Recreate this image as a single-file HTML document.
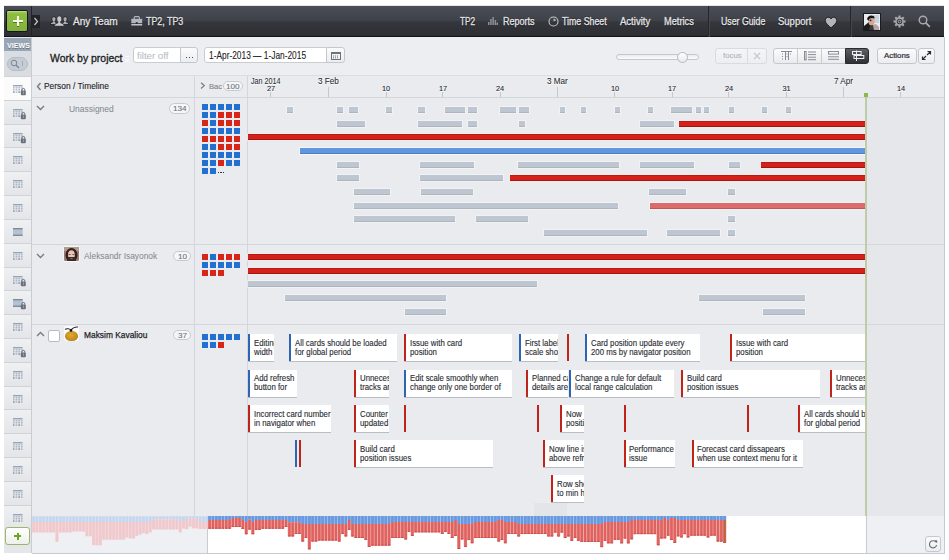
<!DOCTYPE html><html><head><meta charset="utf-8"><style>
*{box-sizing:border-box;margin:0;padding:0}
html,body{width:949px;height:560px;overflow:hidden;background:#fff;font-family:"Liberation Sans",sans-serif;}
.a{position:absolute}
#hdr{left:4px;top:5.6px;width:940px;height:31.4px;background:linear-gradient(#4a4d56 0%,#3f4249 48.5%,#35373c 52.5%,#2c2e33 100%);border-bottom:1px solid #121315;box-shadow:0 -0.5px 0 #c9ccd1}
.ht{color:#e2e3e5;font-size:10px;white-space:nowrap;line-height:12px}
.sep{width:1px;background:#24252a;border-right:1px solid #4c4e55}
#side{left:4px;top:37px;width:28px;height:516px;background:#e4e6ea;border-right:1px solid #c9ccd1}
.cell{left:0;width:27px;height:24px;background:linear-gradient(#eff0f2,#e3e5e8);border-top:1px solid #cfd2d6}
#main{left:32px;top:37px;width:912px;height:516px;background:#e9ebef;}
.bar{position:absolute;height:6px;background:#bdc6d1;box-shadow:inset 0 -1px 0 #adb5bf,0 0 0 1px rgba(255,255,255,0.35)}
.bar.r{background:#d4211a;box-shadow:inset 0 -1px 0 #a3150e,inset 0 1px 0 #b91b13,0 0 0 1px rgba(255,235,235,0.6)}
.bar.b{background:#6197de;box-shadow:inset 0 -1px 0 #4a7fc8,0 0 0 1px rgba(255,255,255,0.6)}
.bar.lr{background:#dc6b6b;box-shadow:inset 0 -1px 0 #c25555,0 0 0 1px rgba(255,255,255,0.4)}
.sq{position:absolute;width:6px;height:6px}
.sqb{background:#2271d2}
.sqr{background:#d8251a}
.card{position:absolute;height:27px;background:#fff;border-left:2px solid #c0231a;box-shadow:0 1px 0 #b9bec5;overflow:hidden;font-size:8.2px;line-height:9px;color:#2a2d33;padding:4.8px 0 0 3.6px;white-space:nowrap;-webkit-text-stroke:0.12px #2a2d33}
.ct{transform:scaleX(0.955);transform-origin:0 0}
.cb{border-left-color:#2c65b6}
.ln{position:absolute;width:2px;height:27px;background:#c0231a}
.lnb{background:#2c65b6}
.badge{position:absolute;height:10px;border:1px solid #c3c6cb;border-radius:6px;background:#f4f5f7;font-size:8px;line-height:8px;color:#767a82;text-align:center}
.tl{position:absolute;font-size:7.5px;color:#25272b;white-space:nowrap;line-height:8px;-webkit-text-stroke:0.2px #25272b;text-shadow:0 1px 0 rgba(255,255,255,0.7)}
.tick{position:absolute;width:1px;background:#c4c8ce}
.btn{position:absolute;height:16px;border:1px solid #c4c8ce;border-radius:3px;background:linear-gradient(#fbfbfc,#ebedf0)}
</style></head><body><div class="a" id="hdr"></div>
<div class="a" style="left:7px;top:11px;width:20px;height:19.5px;border-radius:1.5px;background:linear-gradient(#a2cf55,#8fbd42 15%,#82b23a 100%);box-shadow:0 0 0 1px #16171a,inset 0 1px 0 #b8dc77"></div>
<div class="a" style="left:13px;top:20px;width:10px;height:2px;background:#f6fbe9;box-shadow:0 1px 0 rgba(40,60,10,0.5)"></div>
<div class="a" style="left:17px;top:16px;width:2px;height:10px;background:#f6fbe9;box-shadow:0 1px 0 rgba(40,60,10,0.5)"></div>
<div class="a" style="left:31px;top:6px;width:1px;height:31px;background:#222327"></div>
<div class="a" style="left:32px;top:15px;width:8px;height:13px;background:#232428"></div>
<svg class="a" style="left:33px;top:17px" width="6" height="9"><path d="M1.5 1 L4.5 4.5 L1.5 8" stroke="#c8c9cc" stroke-width="1.2" fill="none"/></svg>
<svg class="a" style="left:49px;top:14px" width="21" height="13" viewBox="0 0 21 13"><g fill="#a9adb3" stroke="#1d1e22" stroke-width="0.8"><path d="M1 10.5 Q1.5 8.3 3.8 8 L3.8 7.2 Q2.8 6.3 2.8 4.9 Q2.8 2.7 4.9 2.7 Q7 2.7 7 4.9 Q7 6.3 6 7.2 L6 8 Q8.2 8.3 8.8 10.5 Z"/><path d="M12.2 10.5 Q12.8 8.3 15 8 L15 7.2 Q14 6.3 14 4.9 Q14 2.7 16.1 2.7 Q18.2 2.7 18.2 4.9 Q18.2 6.3 17.2 7.2 L17.2 8 Q19.4 8.3 20 10.5 Z"/><path d="M5 12.3 Q5.6 9.2 8.9 8.8 L8.9 7.8 Q7.7 6.8 7.7 4.8 Q7.7 1.8 10.3 1.8 Q12.9 1.8 12.9 4.8 Q12.9 6.8 11.7 7.8 L11.7 8.8 Q15 9.2 15.6 12.3 Z" fill="#c4c7cc"/></g></svg>
<div class="a" style="left:72.90px;top:15px;font-size:10.32px;line-height:13px;color:#e4e5e8;white-space:nowrap;transform:scaleX(0.980);transform-origin:0 0;text-shadow:0 1px 1px #141518,0 -1px 0 #1a1b1e;-webkit-text-stroke:0.3px #e4e5e8;">Any Team</div>
<svg class="a" style="left:131px;top:16px" width="11.5" height="10.5" viewBox="0 0 11.5 10.5"><path d="M3.2 3V1.6Q3.2 0.6 4.2 0.6H7.3Q8.3 0.6 8.3 1.6V3" fill="none" stroke="#b4b8be" stroke-width="1.1"/><rect x="0.3" y="2.8" width="10.9" height="4.3" fill="#b2b6bc"/><rect x="0.3" y="7.9" width="10.9" height="1.6" fill="#c0c3c8"/><rect x="4.8" y="6.2" width="1.9" height="1.5" fill="#1f2024"/></svg>
<div class="a" style="left:145.50px;top:15px;font-size:10.32px;line-height:13px;color:#e4e5e8;white-space:nowrap;transform:scaleX(0.859);transform-origin:0 0;text-shadow:0 1px 1px #141518,0 -1px 0 #1a1b1e;-webkit-text-stroke:0.3px #e4e5e8;">TP2, TP3</div>
<div class="a" style="left:460.00px;top:15px;font-size:10.32px;line-height:13px;color:#e4e5e8;white-space:nowrap;transform:scaleX(0.793);transform-origin:0 0;text-shadow:0 1px 1px #141518,0 -1px 0 #1a1b1e;-webkit-text-stroke:0.3px #e4e5e8;">TP2</div>
<svg class="a" style="left:488px;top:17px" width="10" height="8" viewBox="0 0 10 8"><g fill="#8d9096"><rect x="0" y="5" width="1.5" height="3"/><rect x="2.2" y="2" width="1.5" height="6"/><rect x="4.4" y="0" width="1.5" height="8"/><rect x="6.6" y="3" width="1.5" height="5"/><rect x="8.5" y="5.5" width="1.5" height="2.5"/></g></svg>
<div class="a" style="left:502.70px;top:15px;font-size:10.32px;line-height:13px;color:#e4e5e8;white-space:nowrap;transform:scaleX(0.875);transform-origin:0 0;text-shadow:0 1px 1px #141518,0 -1px 0 #1a1b1e;-webkit-text-stroke:0.3px #e4e5e8;">Reports</div>
<svg class="a" style="left:548px;top:16px" width="11" height="11" viewBox="0 0 11 11"><circle cx="5.5" cy="5.5" r="4.5" fill="none" stroke="#c5c7cb" stroke-width="1.1"/><path d="M5.5 5.5 L5.5 2.6 A2.9 2.9 0 0 1 8.2 4.6 Z" fill="#a9acb1"/></svg>
<div class="a" style="left:562.00px;top:15px;font-size:10.32px;line-height:13px;color:#e4e5e8;white-space:nowrap;transform:scaleX(0.853);transform-origin:0 0;text-shadow:0 1px 1px #141518,0 -1px 0 #1a1b1e;-webkit-text-stroke:0.3px #e4e5e8;">Time Sheet</div>
<div class="a" style="left:620.00px;top:15px;font-size:10.32px;line-height:13px;color:#e4e5e8;white-space:nowrap;transform:scaleX(0.924);transform-origin:0 0;text-shadow:0 1px 1px #141518,0 -1px 0 #1a1b1e;-webkit-text-stroke:0.3px #e4e5e8;">Activity</div>
<div class="a" style="left:663.90px;top:15px;font-size:10.32px;line-height:13px;color:#e4e5e8;white-space:nowrap;transform:scaleX(0.896);transform-origin:0 0;text-shadow:0 1px 1px #141518,0 -1px 0 #1a1b1e;-webkit-text-stroke:0.3px #e4e5e8;">Metrics</div>
<div class="a" style="left:708px;top:6px;width:1px;height:31px;background:#26272b"></div>
<div class="a" style="left:709px;top:6px;width:1px;height:31px;background:#45474e"></div>
<div class="a" style="left:720.70px;top:15px;font-size:10.32px;line-height:13px;color:#e4e5e8;white-space:nowrap;transform:scaleX(0.849);transform-origin:0 0;text-shadow:0 1px 1px #141518,0 -1px 0 #1a1b1e;-webkit-text-stroke:0.3px #e4e5e8;">User Guide</div>
<div class="a" style="left:778.20px;top:15px;font-size:10.32px;line-height:13px;color:#e4e5e8;white-space:nowrap;transform:scaleX(0.921);transform-origin:0 0;text-shadow:0 1px 1px #141518,0 -1px 0 #1a1b1e;-webkit-text-stroke:0.3px #e4e5e8;">Support</div>
<svg class="a" style="left:824px;top:15.5px" width="14" height="13" viewBox="0 0 14 13"><path d="M7 11.8 C5.5 10.3 1.2 7.6 1.2 4.4 C1.2 2.5 2.6 1.2 4.2 1.2 C5.5 1.2 6.4 2 7 3 C7.6 2 8.5 1.2 9.8 1.2 C11.4 1.2 12.8 2.5 12.8 4.4 C12.8 7.6 8.5 10.3 7 11.8 Z" fill="#b1b4b9" stroke="#17181b" stroke-width="0.9"/></svg>
<div class="a" style="left:850px;top:6px;width:1px;height:31px;background:#26272b"></div>
<div class="a" style="left:851px;top:6px;width:1px;height:31px;background:#45474e"></div>
<svg class="a" style="left:863px;top:12.5px" width="18" height="18" viewBox="0 0 18 18"><rect x="0" y="0" width="18" height="18" fill="#1a1b1e"/><rect x="1" y="1" width="16" height="16" fill="#e9edf1"/><rect x="10" y="2" width="6" height="8" fill="#c9d3de"/><path d="M1 17 L1 13 L6 9 L9 12 L10 17Z" fill="#1c1c1e"/><ellipse cx="8.5" cy="8.5" rx="3" ry="4" fill="#d8a596"/><path d="M4 6 Q5 2 9 2.5 Q12 3 11.5 5.5 L9 5 Q6 5 5.5 8 Z" fill="#141416"/><circle cx="7.6" cy="7.3" r="0.9" fill="#222"/><path d="M9 12 L13 11 L16 14 L16 17 L10 17Z" fill="#b9a5a2"/><path d="M7 13 L10 12 L11 17 L6 17Z" fill="#3b3b3e"/></svg>
<svg class="a" style="left:893px;top:15px" width="13" height="13" viewBox="0 0 13 13"><g fill="none" stroke="#a9abb0"><circle cx="6.5" cy="6.5" r="3.6" stroke-width="1.6"/><circle cx="6.5" cy="6.5" r="1.3" stroke-width="1"/></g><g stroke="#a9abb0" stroke-width="2"><path d="M6.5 0.5V2.5M6.5 10.5V12.5M0.5 6.5H2.5M10.5 6.5H12.5M2.3 2.3L3.7 3.7M9.3 9.3L10.7 10.7M2.3 10.7L3.7 9.3M9.3 3.7L10.7 2.3"/></g></svg>
<svg class="a" style="left:918px;top:15px" width="13" height="13" viewBox="0 0 13 13"><circle cx="5" cy="5" r="3.8" fill="none" stroke="#a9abb0" stroke-width="1.4"/><path d="M7.8 7.8 L11.8 11.8" stroke="#a9abb0" stroke-width="1.8"/></svg>
<div class="a" id="side"></div>
<div class="a" style="left:4px;top:37.5px;width:27px;height:14px;background:#98a6b5"></div>
<div class="a" style="left:7.00px;top:41px;font-size:7.85px;line-height:10px;color:#ffffff;font-weight:bold;white-space:nowrap;transform:scaleX(0.909);transform-origin:0 0;text-shadow:0 1px 0 rgba(60,70,80,0.5);">VIEWS</div>
<div class="a" style="left:4px;top:51px;width:27px;height:25px;background:#d9dce1"></div>
<div class="a" style="left:7px;top:57px;width:21px;height:14px;border-radius:7px;background:#c6ccd4;border:1px solid #b5bcc6"></div>
<svg class="a" style="left:10px;top:59px" width="10" height="10" viewBox="0 0 10 10"><circle cx="4" cy="4" r="2.8" fill="none" stroke="#7a8491" stroke-width="1"/><path d="M6 6 L9 9" stroke="#7a8491" stroke-width="1.3"/></svg>
<div class="a" style="left:22px;top:61px;width:1px;height:5px;background:#a2aab4"></div>
<div class="a cell" style="left:4px;top:76.00px;height:23.82px;background:#fbfbfc"></div>
<svg class="a" style="left:13.3px;top:85px" width="14" height="11" viewBox="0 0 14 11"><g fill="#97a4b6"><rect x="0" y="0" width="9.6" height="1.4"/><rect x="0" y="2.3" width="1.6" height="1.1"/><rect x="2.6" y="2.3" width="1.8" height="1.1"/><rect x="5.3" y="2.3" width="1.8" height="1.1"/><rect x="8" y="2.3" width="1.6" height="1.1"/><rect x="0" y="4.3" width="1.6" height="1.1"/><rect x="2.6" y="4.3" width="1.8" height="1.1"/><rect x="5.3" y="4.3" width="1.8" height="1.1"/><rect x="8" y="4.3" width="1.6" height="1.1"/><rect x="0" y="6.2" width="1.6" height="1.8"/><rect x="2.6" y="6.2" width="1.8" height="1.8" opacity="0.6"/><rect x="5.3" y="6.2" width="1.8" height="1.8"/><rect x="8" y="6.2" width="1.6" height="1.8" opacity="0.6"/></g><rect x="7.8" y="5.6" width="5" height="4.6" rx="1" fill="#68717d"/><path d="M8.8 5.8V4.9A1.5 1.5 0 0 1 11.8 4.9V5.8" fill="none" stroke="#68717d" stroke-width="1"/><rect x="10" y="6.4" width="0.7" height="2.6" fill="#aab2bd"/></svg>
<div class="a cell" style="left:4px;top:99.82px;height:23.82px;"></div>
<svg class="a" style="left:13.3px;top:109px" width="14" height="11" viewBox="0 0 14 11"><g fill="#97a4b6"><rect x="0" y="0" width="9.6" height="1.4"/><rect x="0" y="2.3" width="1.6" height="1.1"/><rect x="2.6" y="2.3" width="1.8" height="1.1"/><rect x="5.3" y="2.3" width="1.8" height="1.1"/><rect x="8" y="2.3" width="1.6" height="1.1"/><rect x="0" y="4.3" width="1.6" height="1.1"/><rect x="2.6" y="4.3" width="1.8" height="1.1"/><rect x="5.3" y="4.3" width="1.8" height="1.1"/><rect x="8" y="4.3" width="1.6" height="1.1"/><rect x="0" y="6.2" width="1.6" height="1.8"/><rect x="2.6" y="6.2" width="1.8" height="1.8" opacity="0.6"/><rect x="5.3" y="6.2" width="1.8" height="1.8"/><rect x="8" y="6.2" width="1.6" height="1.8" opacity="0.6"/></g><rect x="7.8" y="5.6" width="5" height="4.6" rx="1" fill="#68717d"/><path d="M8.8 5.8V4.9A1.5 1.5 0 0 1 11.8 4.9V5.8" fill="none" stroke="#68717d" stroke-width="1"/><rect x="10" y="6.4" width="0.7" height="2.6" fill="#aab2bd"/></svg>
<div class="a cell" style="left:4px;top:123.64px;height:23.82px;"></div>
<svg class="a" style="left:13.3px;top:133px" width="14" height="11" viewBox="0 0 14 11"><g fill="#97a4b6"><rect x="0" y="0" width="9.6" height="1.4"/><rect x="0" y="2.3" width="1.6" height="1.1"/><rect x="2.6" y="2.3" width="1.8" height="1.1"/><rect x="5.3" y="2.3" width="1.8" height="1.1"/><rect x="8" y="2.3" width="1.6" height="1.1"/><rect x="0" y="4.3" width="1.6" height="1.1"/><rect x="2.6" y="4.3" width="1.8" height="1.1"/><rect x="5.3" y="4.3" width="1.8" height="1.1"/><rect x="8" y="4.3" width="1.6" height="1.1"/><rect x="0" y="6.2" width="1.6" height="1.8"/><rect x="2.6" y="6.2" width="1.8" height="1.8" opacity="0.6"/><rect x="5.3" y="6.2" width="1.8" height="1.8"/><rect x="8" y="6.2" width="1.6" height="1.8" opacity="0.6"/></g><rect x="7.8" y="5.6" width="5" height="4.6" rx="1" fill="#68717d"/><path d="M8.8 5.8V4.9A1.5 1.5 0 0 1 11.8 4.9V5.8" fill="none" stroke="#68717d" stroke-width="1"/><rect x="10" y="6.4" width="0.7" height="2.6" fill="#aab2bd"/></svg>
<div class="a cell" style="left:4px;top:147.46px;height:23.82px;"></div>
<svg class="a" style="left:13.3px;top:156px" width="14" height="11" viewBox="0 0 14 11"><g fill="#97a4b6"><rect x="0" y="0" width="9.6" height="1.4"/><rect x="0" y="2.3" width="1.6" height="1.1"/><rect x="2.6" y="2.3" width="1.8" height="1.1"/><rect x="5.3" y="2.3" width="1.8" height="1.1"/><rect x="8" y="2.3" width="1.6" height="1.1"/><rect x="0" y="4.3" width="1.6" height="1.1"/><rect x="2.6" y="4.3" width="1.8" height="1.1"/><rect x="5.3" y="4.3" width="1.8" height="1.1"/><rect x="8" y="4.3" width="1.6" height="1.1"/><rect x="0" y="6.2" width="1.6" height="1.8"/><rect x="2.6" y="6.2" width="1.8" height="1.8" opacity="0.6"/><rect x="5.3" y="6.2" width="1.8" height="1.8"/><rect x="8" y="6.2" width="1.6" height="1.8" opacity="0.6"/></g></svg>
<div class="a cell" style="left:4px;top:171.28px;height:23.82px;"></div>
<svg class="a" style="left:13.3px;top:180px" width="14" height="11" viewBox="0 0 14 11"><g fill="#97a4b6"><rect x="0" y="0" width="9.6" height="1.4"/><rect x="0" y="2.3" width="1.6" height="1.1"/><rect x="2.6" y="2.3" width="1.8" height="1.1"/><rect x="5.3" y="2.3" width="1.8" height="1.1"/><rect x="8" y="2.3" width="1.6" height="1.1"/><rect x="0" y="4.3" width="1.6" height="1.1"/><rect x="2.6" y="4.3" width="1.8" height="1.1"/><rect x="5.3" y="4.3" width="1.8" height="1.1"/><rect x="8" y="4.3" width="1.6" height="1.1"/><rect x="0" y="6.2" width="1.6" height="1.8"/><rect x="2.6" y="6.2" width="1.8" height="1.8" opacity="0.6"/><rect x="5.3" y="6.2" width="1.8" height="1.8"/><rect x="8" y="6.2" width="1.6" height="1.8" opacity="0.6"/></g></svg>
<div class="a cell" style="left:4px;top:195.10px;height:23.82px;"></div>
<svg class="a" style="left:13.3px;top:204px" width="14" height="11" viewBox="0 0 14 11"><g fill="#97a4b6"><rect x="0" y="0" width="9.6" height="1.4"/><rect x="0" y="2.3" width="1.6" height="1.1"/><rect x="2.6" y="2.3" width="1.8" height="1.1"/><rect x="5.3" y="2.3" width="1.8" height="1.1"/><rect x="8" y="2.3" width="1.6" height="1.1"/><rect x="0" y="4.3" width="1.6" height="1.1"/><rect x="2.6" y="4.3" width="1.8" height="1.1"/><rect x="5.3" y="4.3" width="1.8" height="1.1"/><rect x="8" y="4.3" width="1.6" height="1.1"/><rect x="0" y="6.2" width="1.6" height="1.8"/><rect x="2.6" y="6.2" width="1.8" height="1.8" opacity="0.6"/><rect x="5.3" y="6.2" width="1.8" height="1.8"/><rect x="8" y="6.2" width="1.6" height="1.8" opacity="0.6"/></g></svg>
<div class="a cell" style="left:4px;top:218.92px;height:23.82px;"></div>
<svg class="a" style="left:13.3px;top:228px" width="14" height="11" viewBox="0 0 14 11"><rect x="0" y="0" width="9.6" height="8" fill="#aebbcc"/><rect x="0" y="0" width="9.6" height="1.3" fill="#7f8a99"/><rect x="0" y="6.7" width="9.6" height="1.3" fill="#7f8a99"/><rect x="0" y="2.7" width="9.6" height="0.6" fill="#c4cfdc"/><rect x="0" y="4.6" width="9.6" height="0.6" fill="#c4cfdc"/></svg>
<div class="a cell" style="left:4px;top:242.74px;height:23.82px;"></div>
<svg class="a" style="left:13.3px;top:252px" width="14" height="11" viewBox="0 0 14 11"><g fill="#97a4b6"><rect x="0" y="0" width="9.6" height="1.4"/><rect x="0" y="2.3" width="1.6" height="1.1"/><rect x="2.6" y="2.3" width="1.8" height="1.1"/><rect x="5.3" y="2.3" width="1.8" height="1.1"/><rect x="8" y="2.3" width="1.6" height="1.1"/><rect x="0" y="4.3" width="1.6" height="1.1"/><rect x="2.6" y="4.3" width="1.8" height="1.1"/><rect x="5.3" y="4.3" width="1.8" height="1.1"/><rect x="8" y="4.3" width="1.6" height="1.1"/><rect x="0" y="6.2" width="1.6" height="1.8"/><rect x="2.6" y="6.2" width="1.8" height="1.8" opacity="0.6"/><rect x="5.3" y="6.2" width="1.8" height="1.8"/><rect x="8" y="6.2" width="1.6" height="1.8" opacity="0.6"/></g></svg>
<div class="a cell" style="left:4px;top:266.56px;height:23.82px;"></div>
<svg class="a" style="left:13.3px;top:276px" width="14" height="11" viewBox="0 0 14 11"><g fill="#97a4b6"><rect x="0" y="0" width="9.6" height="1.4"/><rect x="0" y="2.3" width="1.6" height="1.1"/><rect x="2.6" y="2.3" width="1.8" height="1.1"/><rect x="5.3" y="2.3" width="1.8" height="1.1"/><rect x="8" y="2.3" width="1.6" height="1.1"/><rect x="0" y="4.3" width="1.6" height="1.1"/><rect x="2.6" y="4.3" width="1.8" height="1.1"/><rect x="5.3" y="4.3" width="1.8" height="1.1"/><rect x="8" y="4.3" width="1.6" height="1.1"/><rect x="0" y="6.2" width="1.6" height="1.8"/><rect x="2.6" y="6.2" width="1.8" height="1.8" opacity="0.6"/><rect x="5.3" y="6.2" width="1.8" height="1.8"/><rect x="8" y="6.2" width="1.6" height="1.8" opacity="0.6"/></g><rect x="7.8" y="5.6" width="5" height="4.6" rx="1" fill="#68717d"/><path d="M8.8 5.8V4.9A1.5 1.5 0 0 1 11.8 4.9V5.8" fill="none" stroke="#68717d" stroke-width="1"/><rect x="10" y="6.4" width="0.7" height="2.6" fill="#aab2bd"/></svg>
<div class="a cell" style="left:4px;top:290.38px;height:23.82px;"></div>
<svg class="a" style="left:13.3px;top:299px" width="14" height="11" viewBox="0 0 14 11"><rect x="0" y="0" width="9.6" height="8" fill="#aebbcc"/><rect x="0" y="0" width="9.6" height="1.3" fill="#7f8a99"/><rect x="0" y="6.7" width="9.6" height="1.3" fill="#7f8a99"/><rect x="0" y="2.7" width="9.6" height="0.6" fill="#c4cfdc"/><rect x="0" y="4.6" width="9.6" height="0.6" fill="#c4cfdc"/><rect x="7.8" y="5.6" width="5" height="4.6" rx="1" fill="#68717d"/><path d="M8.8 5.8V4.9A1.5 1.5 0 0 1 11.8 4.9V5.8" fill="none" stroke="#68717d" stroke-width="1"/><rect x="10" y="6.4" width="0.7" height="2.6" fill="#aab2bd"/></svg>
<div class="a cell" style="left:4px;top:314.20px;height:23.82px;"></div>
<svg class="a" style="left:13.3px;top:323px" width="14" height="11" viewBox="0 0 14 11"><g fill="#97a4b6"><rect x="0" y="0" width="9.6" height="1.4"/><rect x="0" y="2.3" width="1.6" height="1.1"/><rect x="2.6" y="2.3" width="1.8" height="1.1"/><rect x="5.3" y="2.3" width="1.8" height="1.1"/><rect x="8" y="2.3" width="1.6" height="1.1"/><rect x="0" y="4.3" width="1.6" height="1.1"/><rect x="2.6" y="4.3" width="1.8" height="1.1"/><rect x="5.3" y="4.3" width="1.8" height="1.1"/><rect x="8" y="4.3" width="1.6" height="1.1"/><rect x="0" y="6.2" width="1.6" height="1.8"/><rect x="2.6" y="6.2" width="1.8" height="1.8" opacity="0.6"/><rect x="5.3" y="6.2" width="1.8" height="1.8"/><rect x="8" y="6.2" width="1.6" height="1.8" opacity="0.6"/></g></svg>
<div class="a cell" style="left:4px;top:338.02px;height:23.82px;"></div>
<svg class="a" style="left:13.3px;top:347px" width="14" height="11" viewBox="0 0 14 11"><g fill="#97a4b6"><rect x="0" y="0" width="9.6" height="1.4"/><rect x="0" y="2.3" width="1.6" height="1.1"/><rect x="2.6" y="2.3" width="1.8" height="1.1"/><rect x="5.3" y="2.3" width="1.8" height="1.1"/><rect x="8" y="2.3" width="1.6" height="1.1"/><rect x="0" y="4.3" width="1.6" height="1.1"/><rect x="2.6" y="4.3" width="1.8" height="1.1"/><rect x="5.3" y="4.3" width="1.8" height="1.1"/><rect x="8" y="4.3" width="1.6" height="1.1"/><rect x="0" y="6.2" width="1.6" height="1.8"/><rect x="2.6" y="6.2" width="1.8" height="1.8" opacity="0.6"/><rect x="5.3" y="6.2" width="1.8" height="1.8"/><rect x="8" y="6.2" width="1.6" height="1.8" opacity="0.6"/></g><rect x="7.8" y="5.6" width="5" height="4.6" rx="1" fill="#68717d"/><path d="M8.8 5.8V4.9A1.5 1.5 0 0 1 11.8 4.9V5.8" fill="none" stroke="#68717d" stroke-width="1"/><rect x="10" y="6.4" width="0.7" height="2.6" fill="#aab2bd"/></svg>
<div class="a cell" style="left:4px;top:361.84px;height:23.82px;"></div>
<svg class="a" style="left:13.3px;top:371px" width="14" height="11" viewBox="0 0 14 11"><g fill="#97a4b6"><rect x="0" y="0" width="9.6" height="1.4"/><rect x="0" y="2.3" width="1.6" height="1.1"/><rect x="2.6" y="2.3" width="1.8" height="1.1"/><rect x="5.3" y="2.3" width="1.8" height="1.1"/><rect x="8" y="2.3" width="1.6" height="1.1"/><rect x="0" y="4.3" width="1.6" height="1.1"/><rect x="2.6" y="4.3" width="1.8" height="1.1"/><rect x="5.3" y="4.3" width="1.8" height="1.1"/><rect x="8" y="4.3" width="1.6" height="1.1"/><rect x="0" y="6.2" width="1.6" height="1.8"/><rect x="2.6" y="6.2" width="1.8" height="1.8" opacity="0.6"/><rect x="5.3" y="6.2" width="1.8" height="1.8"/><rect x="8" y="6.2" width="1.6" height="1.8" opacity="0.6"/></g></svg>
<div class="a cell" style="left:4px;top:385.66px;height:23.82px;"></div>
<svg class="a" style="left:13.3px;top:395px" width="14" height="11" viewBox="0 0 14 11"><g fill="#97a4b6"><rect x="0" y="0" width="9.6" height="1.4"/><rect x="0" y="2.3" width="1.6" height="1.1"/><rect x="2.6" y="2.3" width="1.8" height="1.1"/><rect x="5.3" y="2.3" width="1.8" height="1.1"/><rect x="8" y="2.3" width="1.6" height="1.1"/><rect x="0" y="4.3" width="1.6" height="1.1"/><rect x="2.6" y="4.3" width="1.8" height="1.1"/><rect x="5.3" y="4.3" width="1.8" height="1.1"/><rect x="8" y="4.3" width="1.6" height="1.1"/><rect x="0" y="6.2" width="1.6" height="1.8"/><rect x="2.6" y="6.2" width="1.8" height="1.8" opacity="0.6"/><rect x="5.3" y="6.2" width="1.8" height="1.8"/><rect x="8" y="6.2" width="1.6" height="1.8" opacity="0.6"/></g></svg>
<div class="a cell" style="left:4px;top:409.48px;height:23.82px;"></div>
<svg class="a" style="left:13.3px;top:418px" width="14" height="11" viewBox="0 0 14 11"><g fill="#97a4b6"><rect x="0" y="0" width="9.6" height="1.4"/><rect x="0" y="2.3" width="1.6" height="1.1"/><rect x="2.6" y="2.3" width="1.8" height="1.1"/><rect x="5.3" y="2.3" width="1.8" height="1.1"/><rect x="8" y="2.3" width="1.6" height="1.1"/><rect x="0" y="4.3" width="1.6" height="1.1"/><rect x="2.6" y="4.3" width="1.8" height="1.1"/><rect x="5.3" y="4.3" width="1.8" height="1.1"/><rect x="8" y="4.3" width="1.6" height="1.1"/><rect x="0" y="6.2" width="1.6" height="1.8"/><rect x="2.6" y="6.2" width="1.8" height="1.8" opacity="0.6"/><rect x="5.3" y="6.2" width="1.8" height="1.8"/><rect x="8" y="6.2" width="1.6" height="1.8" opacity="0.6"/></g></svg>
<div class="a cell" style="left:4px;top:433.30px;height:23.82px;"></div>
<svg class="a" style="left:13.3px;top:442px" width="14" height="11" viewBox="0 0 14 11"><g fill="#97a4b6"><rect x="0" y="0" width="9.6" height="1.4"/><rect x="0" y="2.3" width="1.6" height="1.1"/><rect x="2.6" y="2.3" width="1.8" height="1.1"/><rect x="5.3" y="2.3" width="1.8" height="1.1"/><rect x="8" y="2.3" width="1.6" height="1.1"/><rect x="0" y="4.3" width="1.6" height="1.1"/><rect x="2.6" y="4.3" width="1.8" height="1.1"/><rect x="5.3" y="4.3" width="1.8" height="1.1"/><rect x="8" y="4.3" width="1.6" height="1.1"/><rect x="0" y="6.2" width="1.6" height="1.8"/><rect x="2.6" y="6.2" width="1.8" height="1.8" opacity="0.6"/><rect x="5.3" y="6.2" width="1.8" height="1.8"/><rect x="8" y="6.2" width="1.6" height="1.8" opacity="0.6"/></g></svg>
<div class="a cell" style="left:4px;top:457.12px;height:23.82px;"></div>
<svg class="a" style="left:13.3px;top:466px" width="14" height="11" viewBox="0 0 14 11"><g fill="#97a4b6"><rect x="0" y="0" width="9.6" height="1.4"/><rect x="0" y="2.3" width="1.6" height="1.1"/><rect x="2.6" y="2.3" width="1.8" height="1.1"/><rect x="5.3" y="2.3" width="1.8" height="1.1"/><rect x="8" y="2.3" width="1.6" height="1.1"/><rect x="0" y="4.3" width="1.6" height="1.1"/><rect x="2.6" y="4.3" width="1.8" height="1.1"/><rect x="5.3" y="4.3" width="1.8" height="1.1"/><rect x="8" y="4.3" width="1.6" height="1.1"/><rect x="0" y="6.2" width="1.6" height="1.8"/><rect x="2.6" y="6.2" width="1.8" height="1.8" opacity="0.6"/><rect x="5.3" y="6.2" width="1.8" height="1.8"/><rect x="8" y="6.2" width="1.6" height="1.8" opacity="0.6"/></g></svg>
<div class="a cell" style="left:4px;top:480.94px;height:23.82px;"></div>
<svg class="a" style="left:13.3px;top:490px" width="14" height="11" viewBox="0 0 14 11"><g fill="#97a4b6"><rect x="0" y="0" width="9.6" height="1.4"/><rect x="0" y="2.3" width="1.6" height="1.1"/><rect x="2.6" y="2.3" width="1.8" height="1.1"/><rect x="5.3" y="2.3" width="1.8" height="1.1"/><rect x="8" y="2.3" width="1.6" height="1.1"/><rect x="0" y="4.3" width="1.6" height="1.1"/><rect x="2.6" y="4.3" width="1.8" height="1.1"/><rect x="5.3" y="4.3" width="1.8" height="1.1"/><rect x="8" y="4.3" width="1.6" height="1.1"/><rect x="0" y="6.2" width="1.6" height="1.8"/><rect x="2.6" y="6.2" width="1.8" height="1.8" opacity="0.6"/><rect x="5.3" y="6.2" width="1.8" height="1.8"/><rect x="8" y="6.2" width="1.6" height="1.8" opacity="0.6"/></g></svg>
<div class="a cell" style="left:4px;top:504.76px;height:23.82px;"></div>
<svg class="a" style="left:13.3px;top:514px" width="14" height="11" viewBox="0 0 14 11"><g fill="#97a4b6"><rect x="0" y="0" width="9.6" height="1.4"/><rect x="0" y="2.3" width="1.6" height="1.1"/><rect x="2.6" y="2.3" width="1.8" height="1.1"/><rect x="5.3" y="2.3" width="1.8" height="1.1"/><rect x="8" y="2.3" width="1.6" height="1.1"/><rect x="0" y="4.3" width="1.6" height="1.1"/><rect x="2.6" y="4.3" width="1.8" height="1.1"/><rect x="5.3" y="4.3" width="1.8" height="1.1"/><rect x="8" y="4.3" width="1.6" height="1.1"/><rect x="0" y="6.2" width="1.6" height="1.8"/><rect x="2.6" y="6.2" width="1.8" height="1.8" opacity="0.6"/><rect x="5.3" y="6.2" width="1.8" height="1.8"/><rect x="8" y="6.2" width="1.6" height="1.8" opacity="0.6"/></g></svg>
<div class="a" style="left:5px;top:527px;width:25px;height:18px;border:1px solid #9fb36f;border-radius:3px;background:linear-gradient(#ffffff,#eef0ea)"></div>
<div class="a" style="left:14px;top:535px;width:7px;height:2px;background:#6aa52a"></div>
<div class="a" style="left:16.5px;top:532.5px;width:2px;height:7px;background:#6aa52a"></div>
<div class="a" id="main"></div>
<div class="a" style="left:32px;top:37px;width:912px;height:39px;background:#eceef1;border-bottom:1px solid #dadde1"></div>
<div class="a" style="left:50.40px;top:50px;font-size:11.77px;line-height:15px;color:#1d1f23;-webkit-text-stroke:0.35px #1d1f23;white-space:nowrap;transform:scaleX(0.888);transform-origin:0 0;">Work by project</div>
<div class="a" style="left:124.5px;top:56px;width:4.5px;height:1px;background:rgba(255,255,255,0.7)"></div>
<div class="a" style="left:124.5px;top:58.5px;width:4.5px;height:1px;background:rgba(255,255,255,0.7)"></div>
<div class="a" style="left:124.5px;top:61px;width:4.5px;height:1px;background:rgba(255,255,255,0.7)"></div>
<div class="a" style="left:133px;top:47px;width:48px;height:16px;background:#fff;border:1px solid #c9cdd2;border-radius:3px 0 0 3px"></div>
<div class="a" style="left:136.90px;top:49px;font-size:9.74px;line-height:13px;color:#b3b7bd;white-space:nowrap;transform:scaleX(0.986);transform-origin:0 0;">filter off</div>
<div class="a btn" style="left:180px;top:47px;width:18px;border-radius:0 3px 3px 0"></div>
<div class="a" style="left:186px;top:57.2px;width:1.3px;height:1.3px;background:#4a4d53"></div>
<div class="a" style="left:189px;top:57.2px;width:1.3px;height:1.3px;background:#4a4d53"></div>
<div class="a" style="left:192px;top:57.2px;width:1.3px;height:1.3px;background:#4a4d53"></div>
<div class="a" style="left:204px;top:47px;width:123px;height:16px;background:#fff;border:1px solid #c9cdd2;border-radius:3px 0 0 3px"></div>
<div class="a" style="left:208.90px;top:49px;font-size:10.47px;line-height:14px;color:#1f2125;-webkit-text-stroke:0.1px #1f2125;white-space:nowrap;transform:scaleX(0.798);transform-origin:0 0;">1-Apr-2013 — 1-Jan-2015</div>
<div class="a btn" style="left:326px;top:47px;width:19px;border-radius:0 3px 3px 0"></div>
<svg class="a" style="left:331px;top:52px" width="10" height="8" viewBox="0 0 10 8"><rect x="0.5" y="0.5" width="9" height="7" fill="none" stroke="#6d737b"/><rect x="0.5" y="0.5" width="9" height="1.5" fill="#6d737b"/><g fill="#6d737b"><rect x="2" y="3.5" width="1" height="1"/><rect x="4" y="3.5" width="1" height="1"/><rect x="6" y="3.5" width="1" height="1"/><rect x="2" y="5.3" width="1" height="1"/><rect x="4" y="5.3" width="1" height="1"/><rect x="6" y="5.3" width="1" height="1"/></g></svg>
<div class="a" style="left:616px;top:54px;width:83px;height:6px;border-radius:3px;background:linear-gradient(#e9ebee,#fafbfc);border:1px solid #c4c8ce"></div>
<div class="a" style="left:676.5px;top:51.5px;width:11px;height:11px;border-radius:50%;background:linear-gradient(#ffffff,#e6e8eb);border:1px solid #b4b9c0"></div>
<div class="a btn" style="left:715px;top:48px;width:52px;height:15.5px;border-color:#d8dbdf;background:linear-gradient(#f4f5f7,#eceef1)"></div>
<div class="a" style="left:747px;top:48px;width:1px;height:15px;background:#d8dbdf"></div>
<div class="a" style="left:722.50px;top:51px;font-size:7.99px;line-height:10px;color:#b4b8be;-webkit-text-stroke:0.15px #b4b8be;white-space:nowrap;transform:scaleX(0.984);transform-origin:0 0;">focus</div>
<svg class="a" style="left:753px;top:52px" width="8" height="8"><path d="M1 1L7 7M7 1L1 7" stroke="#c4c7cc" stroke-width="1.1"/></svg>
<div class="a btn" style="left:773px;top:47.5px;width:96px;height:16px;background:linear-gradient(#fbfbfc,#e9ebee)"></div>
<div class="a" style="left:797px;top:48px;width:1px;height:15px;background:#c9cdd2"></div>
<div class="a" style="left:821px;top:48px;width:1px;height:15px;background:#c9cdd2"></div>
<div class="a" style="left:845px;top:47.5px;width:24px;height:16px;border-radius:0 3px 3px 0;background:linear-gradient(#5b5e66,#2e3035);border:1px solid #2a2b2f"></div>
<svg class="a" style="left:780px;top:50px" width="14" height="12" viewBox="0 0 14 12"><g fill="#868d97"><rect x="1" y="1" width="11" height="1"/><rect x="5" y="1" width="1" height="9"/><rect x="8" y="1" width="1" height="9"/><rect x="2" y="3.5" width="1" height="1"/><rect x="2" y="6" width="1" height="1"/><rect x="2" y="8.5" width="1" height="1"/><rect x="6.5" y="3.5" width="1" height="1"/><rect x="6.5" y="6" width="1" height="1"/><rect x="10" y="3.5" width="1" height="1"/></g></svg>
<svg class="a" style="left:803px;top:50px" width="14" height="12" viewBox="0 0 14 12"><g fill="none" stroke="#868d97" stroke-width="1"><rect x="1.5" y="1.5" width="1.6" height="8.4"/><path d="M5 2H13M5 4.6H13M5 7.2H13M5 9.7H13"/></g></svg>
<svg class="a" style="left:827px;top:50px" width="14" height="12" viewBox="0 0 14 12"><g fill="none" stroke="#868d97" stroke-width="1"><rect x="1.5" y="1.5" width="10" height="2.6"/><path d="M1 6.8H12M1 9.3H12"/></g></svg>
<svg class="a" style="left:851px;top:49px" width="14" height="13" viewBox="0 0 14 13"><g fill="none" stroke="#eceef0" stroke-width="1"><rect x="1.5" y="2.5" width="8.6" height="3"/><rect x="3" y="6.5" width="9.8" height="3"/><path d="M5.5 1.5V12"/></g></svg>
<div class="a btn" style="left:877px;top:47.5px;width:40px;height:16px;border-radius:3px"></div>
<div class="a" style="left:884.40px;top:51px;font-size:7.70px;line-height:10px;color:#2a2c30;-webkit-text-stroke:0.2px #2a2c30;white-space:nowrap;transform:scaleX(1.022);transform-origin:0 0;">Actions</div>
<div class="a btn" style="left:918px;top:47.5px;width:17px;height:16px;border-radius:3px"></div>
<svg class="a" style="left:921px;top:50px" width="11" height="11" viewBox="0 0 11 11"><g stroke="#2a2c30" stroke-width="1.2" fill="none"><path d="M6.5 1.5H9.5V4.5M9.5 1.5L6 5"/><path d="M1.5 6.5V9.5H4.5M1.5 9.5L5 6"/></g></svg>
<div class="a" style="left:32px;top:76px;width:912px;height:22px;background:#e9ebef;border-bottom:1px solid #d3d6db"></div>
<svg class="a" style="left:36px;top:82px" width="6" height="9"><path d="M4.5 1 L1.5 4.5 L4.5 8" stroke="#737880" stroke-width="1.35" fill="none"/></svg>
<div class="a" style="left:44.40px;top:81px;font-size:8.43px;line-height:11px;color:#1f2125;-webkit-text-stroke:0.1px #1f2125;white-space:nowrap;transform:scaleX(0.997);transform-origin:0 0;">Person / Timeline</div>
<svg class="a" style="left:199.5px;top:81.5px" width="6" height="8"><path d="M1 0.7 L4.3 3.6 L1 6.5" stroke="#767b83" stroke-width="1.2" fill="none"/></svg>
<div class="a" style="left:208.60px;top:82px;font-size:7.99px;line-height:10px;color:#7d8289;-webkit-text-stroke:0.1px #7d8289;white-space:nowrap;transform:scaleX(0.959);transform-origin:0 0;">Bac</div>
<div class="a" style="left:222.8px;top:81.2px;width:20.3px;height:9.9px;border:1px solid #c6c9ce;border-radius:5.5px;background:#f5f6f8"></div>
<div class="a" style="left:226.14px;top:82px;font-size:7.56px;line-height:10px;color:#6f747c;-webkit-text-stroke:0.1px #6f747c;white-space:nowrap;transform:scaleX(1.080);transform-origin:0 0;">100</div>
<div class="a" style="left:194px;top:76px;width:1px;height:440px;background:#d3d6db"></div>
<div class="a" style="left:247px;top:76px;width:1px;height:440px;background:#d3d6db"></div>
<div class="a" style="left:866px;top:98px;width:78px;height:418px;background:#e5e7eb"></div>
<div class="tick" style="left:270px;top:92px;height:5px"></div>
<div class="a" style="left:266.88px;top:84px;font-size:7.41px;line-height:10px;color:#25272b;-webkit-text-stroke:0.1px #25272b;white-space:nowrap;transform:scaleX(1.000);transform-origin:0 0;text-shadow:0 0 2px #fff,0 1px 0 rgba(255,255,255,0.8);">27</div>
<div class="tick" style="left:328px;top:87px;height:10px"></div>
<div class="a" style="left:318.18px;top:76px;font-size:8.58px;line-height:11px;color:#25272b;-webkit-text-stroke:0.05px #25272b;white-space:nowrap;transform:scaleX(0.950);transform-origin:0 0;text-shadow:0 0 2px #fff,0 1px 0 rgba(255,255,255,0.8);">3 Feb</div>
<div class="tick" style="left:386px;top:92px;height:5px"></div>
<div class="a" style="left:381.88px;top:84px;font-size:7.41px;line-height:10px;color:#25272b;-webkit-text-stroke:0.1px #25272b;white-space:nowrap;transform:scaleX(1.000);transform-origin:0 0;text-shadow:0 0 2px #fff,0 1px 0 rgba(255,255,255,0.8);">10</div>
<div class="tick" style="left:442px;top:92px;height:5px"></div>
<div class="a" style="left:438.88px;top:84px;font-size:7.41px;line-height:10px;color:#25272b;-webkit-text-stroke:0.1px #25272b;white-space:nowrap;transform:scaleX(1.000);transform-origin:0 0;text-shadow:0 0 2px #fff,0 1px 0 rgba(255,255,255,0.8);">17</div>
<div class="tick" style="left:500px;top:92px;height:5px"></div>
<div class="a" style="left:495.88px;top:84px;font-size:7.41px;line-height:10px;color:#25272b;-webkit-text-stroke:0.1px #25272b;white-space:nowrap;transform:scaleX(1.000);transform-origin:0 0;text-shadow:0 0 2px #fff,0 1px 0 rgba(255,255,255,0.8);">24</div>
<div class="tick" style="left:557px;top:87px;height:10px"></div>
<div class="a" style="left:546.69px;top:76px;font-size:8.58px;line-height:11px;color:#25272b;-webkit-text-stroke:0.05px #25272b;white-space:nowrap;transform:scaleX(0.950);transform-origin:0 0;text-shadow:0 0 2px #fff,0 1px 0 rgba(255,255,255,0.8);">3 Mar</div>
<div class="tick" style="left:614px;top:92px;height:5px"></div>
<div class="a" style="left:610.88px;top:84px;font-size:7.41px;line-height:10px;color:#25272b;-webkit-text-stroke:0.1px #25272b;white-space:nowrap;transform:scaleX(1.000);transform-origin:0 0;text-shadow:0 0 2px #fff,0 1px 0 rgba(255,255,255,0.8);">10</div>
<div class="tick" style="left:672px;top:92px;height:5px"></div>
<div class="a" style="left:667.88px;top:84px;font-size:7.41px;line-height:10px;color:#25272b;-webkit-text-stroke:0.1px #25272b;white-space:nowrap;transform:scaleX(1.000);transform-origin:0 0;text-shadow:0 0 2px #fff,0 1px 0 rgba(255,255,255,0.8);">17</div>
<div class="tick" style="left:728px;top:92px;height:5px"></div>
<div class="a" style="left:724.88px;top:84px;font-size:7.41px;line-height:10px;color:#25272b;-webkit-text-stroke:0.1px #25272b;white-space:nowrap;transform:scaleX(1.000);transform-origin:0 0;text-shadow:0 0 2px #fff,0 1px 0 rgba(255,255,255,0.8);">24</div>
<div class="tick" style="left:786px;top:92px;height:5px"></div>
<div class="a" style="left:782.38px;top:84px;font-size:7.41px;line-height:10px;color:#25272b;-webkit-text-stroke:0.1px #25272b;white-space:nowrap;transform:scaleX(1.000);transform-origin:0 0;text-shadow:0 0 2px #fff,0 1px 0 rgba(255,255,255,0.8);">31</div>
<div class="tick" style="left:843px;top:87px;height:10px"></div>
<div class="a" style="left:833.99px;top:76px;font-size:8.58px;line-height:11px;color:#25272b;-webkit-text-stroke:0.05px #25272b;white-space:nowrap;transform:scaleX(0.950);transform-origin:0 0;text-shadow:0 0 2px #fff,0 1px 0 rgba(255,255,255,0.8);">7 Apr</div>
<div class="tick" style="left:900px;top:92px;height:5px"></div>
<div class="a" style="left:896.88px;top:84px;font-size:7.41px;line-height:10px;color:#25272b;-webkit-text-stroke:0.1px #25272b;white-space:nowrap;transform:scaleX(1.000);transform-origin:0 0;text-shadow:0 0 2px #fff,0 1px 0 rgba(255,255,255,0.8);">14</div>
<div class="a" style="left:250.50px;top:76px;font-size:8.43px;line-height:11px;color:#25272b;-webkit-text-stroke:0.05px #25272b;white-space:nowrap;transform:scaleX(0.851);transform-origin:0 0;text-shadow:0 0 2px #fff,0 1px 0 rgba(255,255,255,0.8);">Jan 2014</div>
<div class="a" style="left:864px;top:93px;width:4px;height:4px;background:#8db84a"></div>
<div class="a" style="left:32px;top:244px;width:912px;height:1px;background:#d3d6db"></div>
<div class="a" style="left:32px;top:324px;width:912px;height:1px;background:#d3d6db"></div>
<svg class="a" style="left:36px;top:105px" width="9" height="6"><path d="M1 1 L4.5 4.5 L8 1" stroke="#767b83" stroke-width="1.35" fill="none"/></svg>
<div class="a" style="left:68.50px;top:103px;font-size:9.59px;line-height:12px;color:#7f848c;white-space:nowrap;transform:scaleX(0.885);transform-origin:0 0;">Unassigned</div>
<div class="a" style="left:169.4px;top:103.2px;width:21.1px;height:10.4px;border:1px solid #c6c9ce;border-radius:5.5px;background:#f5f6f8"></div>
<div class="a" style="left:173.14px;top:104px;font-size:7.56px;line-height:10px;color:#6f747c;-webkit-text-stroke:0.1px #6f747c;white-space:nowrap;transform:scaleX(1.080);transform-origin:0 0;">134</div>
<div class="sq sqb" style="left:202px;top:104px"></div>
<div class="sq sqb" style="left:210px;top:104px"></div>
<div class="sq sqb" style="left:218px;top:104px"></div>
<div class="sq sqb" style="left:226px;top:104px"></div>
<div class="sq sqb" style="left:234px;top:104px"></div>
<div class="sq sqb" style="left:202px;top:112px"></div>
<div class="sq sqb" style="left:210px;top:112px"></div>
<div class="sq sqr" style="left:218px;top:112px"></div>
<div class="sq sqr" style="left:226px;top:112px"></div>
<div class="sq sqr" style="left:234px;top:112px"></div>
<div class="sq sqr" style="left:202px;top:120px"></div>
<div class="sq sqb" style="left:210px;top:120px"></div>
<div class="sq sqr" style="left:218px;top:120px"></div>
<div class="sq sqr" style="left:226px;top:120px"></div>
<div class="sq sqr" style="left:234px;top:120px"></div>
<div class="sq sqb" style="left:202px;top:128px"></div>
<div class="sq sqb" style="left:210px;top:128px"></div>
<div class="sq sqb" style="left:218px;top:128px"></div>
<div class="sq sqb" style="left:226px;top:128px"></div>
<div class="sq sqb" style="left:234px;top:128px"></div>
<div class="sq sqr" style="left:202px;top:136px"></div>
<div class="sq sqr" style="left:210px;top:136px"></div>
<div class="sq sqr" style="left:218px;top:136px"></div>
<div class="sq sqr" style="left:226px;top:136px"></div>
<div class="sq sqr" style="left:234px;top:136px"></div>
<div class="sq sqb" style="left:202px;top:144px"></div>
<div class="sq sqb" style="left:210px;top:144px"></div>
<div class="sq sqr" style="left:218px;top:144px"></div>
<div class="sq sqr" style="left:226px;top:144px"></div>
<div class="sq sqr" style="left:234px;top:144px"></div>
<div class="sq sqb" style="left:202px;top:152px"></div>
<div class="sq sqb" style="left:210px;top:152px"></div>
<div class="sq sqb" style="left:218px;top:152px"></div>
<div class="sq sqb" style="left:226px;top:152px"></div>
<div class="sq sqb" style="left:234px;top:152px"></div>
<div class="sq sqb" style="left:202px;top:160px"></div>
<div class="sq sqb" style="left:210px;top:160px"></div>
<div class="sq sqr" style="left:218px;top:160px"></div>
<div class="sq sqb" style="left:226px;top:160px"></div>
<div class="sq sqb" style="left:234px;top:160px"></div>
<div class="sq sqb" style="left:202px;top:168px"></div>
<div class="sq sqb" style="left:210px;top:168px"></div>
<div class="a" style="left:218px;top:172px;width:1.4px;height:1.4px;background:#333"></div>
<div class="a" style="left:220.4px;top:172px;width:1.4px;height:1.4px;background:#333"></div>
<div class="a" style="left:222.8px;top:172px;width:1.4px;height:1.4px;background:#333"></div>
<div class="bar " style="left:287px;top:107px;width:6px"></div>
<div class="bar " style="left:337px;top:107px;width:6px"></div>
<div class="bar " style="left:349px;top:107px;width:9px"></div>
<div class="bar " style="left:386px;top:107px;width:6px"></div>
<div class="bar " style="left:418px;top:107px;width:7px"></div>
<div class="bar " style="left:445px;top:107px;width:20px"></div>
<div class="bar " style="left:468px;top:107px;width:9px"></div>
<div class="bar " style="left:500px;top:107px;width:16px"></div>
<div class="bar " style="left:519px;top:107px;width:10px"></div>
<div class="bar " style="left:560px;top:107px;width:5px"></div>
<div class="bar " style="left:581px;top:107px;width:5px"></div>
<div class="bar " style="left:615px;top:107px;width:5px"></div>
<div class="bar " style="left:648px;top:107px;width:5px"></div>
<div class="bar " style="left:671px;top:107px;width:21px"></div>
<div class="bar " style="left:696px;top:107px;width:5px"></div>
<div class="bar " style="left:704px;top:107px;width:5px"></div>
<div class="bar " style="left:729px;top:107px;width:5px"></div>
<div class="bar " style="left:762px;top:107px;width:5px"></div>
<div class="bar " style="left:786px;top:107px;width:5px"></div>
<div class="bar " style="left:337px;top:121px;width:28px"></div>
<div class="bar " style="left:418px;top:121px;width:44px"></div>
<div class="bar " style="left:468px;top:121px;width:9px"></div>
<div class="bar " style="left:519px;top:121px;width:6px"></div>
<div class="bar " style="left:640px;top:121px;width:34px"></div>
<div class="bar r" style="left:679px;top:121px;width:186px"></div>
<div class="bar r" style="left:248px;top:134px;width:617px"></div>
<div class="bar b" style="left:299.5px;top:148px;width:565.5px"></div>
<div class="bar " style="left:337px;top:162px;width:22px"></div>
<div class="bar " style="left:420px;top:162px;width:54px"></div>
<div class="bar " style="left:518px;top:162px;width:101px"></div>
<div class="bar " style="left:640px;top:162px;width:54px"></div>
<div class="bar " style="left:729px;top:162px;width:11px"></div>
<div class="bar r" style="left:761px;top:162px;width:104px"></div>
<div class="bar " style="left:337px;top:175px;width:22px"></div>
<div class="bar " style="left:420px;top:175px;width:83px"></div>
<div class="bar r" style="left:510px;top:175px;width:355px"></div>
<div class="bar " style="left:354px;top:189px;width:35.5px"></div>
<div class="bar " style="left:421px;top:189px;width:52px"></div>
<div class="bar " style="left:649px;top:189px;width:37px"></div>
<div class="bar " style="left:728px;top:189px;width:7px"></div>
<div class="bar " style="left:354px;top:203px;width:264px"></div>
<div class="bar lr" style="left:650px;top:203px;width:215px"></div>
<div class="bar " style="left:354px;top:216px;width:101px"></div>
<div class="bar " style="left:476px;top:216px;width:52px"></div>
<div class="bar " style="left:728px;top:216px;width:7px"></div>
<div class="bar " style="left:544px;top:230px;width:103px"></div>
<div class="bar " style="left:667px;top:230px;width:53px"></div>
<div class="bar " style="left:728px;top:230px;width:7px"></div>
<svg class="a" style="left:36px;top:253px" width="9" height="6"><path d="M1 1 L4.5 4.5 L8 1" stroke="#767b83" stroke-width="1.35" fill="none"/></svg>
<div class="a" style="left:63px;top:246px;width:17px;height:16px;border-radius:3px;background:#f7f7f8"></div>
<svg class="a" style="left:64px;top:247px" width="15" height="14" viewBox="0 0 15 14"><rect width="15" height="14" rx="1.5" fill="#9b7a70"/><rect x="0" y="0" width="15" height="4" fill="#b59a8e"/><ellipse cx="7.5" cy="8" rx="6" ry="7" fill="#2f2221"/><ellipse cx="7.4" cy="7.8" rx="3.4" ry="4.6" fill="#efc2b6"/><rect x="4.6" y="7" width="2" height="0.9" fill="#6b4c48"/><rect x="8.4" y="7" width="2" height="0.9" fill="#6b4c48"/><path d="M3 14 L4 10 L11 10 L12 14Z" fill="#3a2a28"/><rect x="6.4" y="11" width="2.2" height="0.8" fill="#b77c74"/></svg>
<div class="a" style="left:83.60px;top:250px;font-size:9.59px;line-height:12px;color:#7f848c;white-space:nowrap;transform:scaleX(0.876);transform-origin:0 0;">Aleksandr Isayonok</div>
<div class="a" style="left:173.3px;top:251.2px;width:17.7px;height:9.8px;border:1px solid #c6c9ce;border-radius:5.5px;background:#f5f6f8"></div>
<div class="a" style="left:177.61px;top:252px;font-size:7.56px;line-height:10px;color:#6f747c;-webkit-text-stroke:0.1px #6f747c;white-space:nowrap;transform:scaleX(1.080);transform-origin:0 0;">10</div>
<div class="sq sqr" style="left:202px;top:254px"></div>
<div class="sq sqb" style="left:210px;top:254px"></div>
<div class="sq sqr" style="left:218px;top:254px"></div>
<div class="sq sqr" style="left:226px;top:254px"></div>
<div class="sq sqr" style="left:234px;top:254px"></div>
<div class="sq sqb" style="left:202px;top:262px"></div>
<div class="sq sqb" style="left:210px;top:262px"></div>
<div class="sq sqb" style="left:218px;top:262px"></div>
<div class="sq sqb" style="left:226px;top:262px"></div>
<div class="sq sqb" style="left:234px;top:262px"></div>
<div class="sq sqr" style="left:202px;top:270px"></div>
<div class="sq sqr" style="left:210px;top:270px"></div>
<div class="sq sqr" style="left:218px;top:270px"></div>
<div class="bar r" style="left:248px;top:254px;width:617px"></div>
<div class="bar r" style="left:248px;top:268px;width:617px"></div>
<div class="bar " style="left:248px;top:281px;width:289px"></div>
<div class="bar " style="left:285px;top:295px;width:161px"></div>
<div class="bar " style="left:699px;top:295px;width:106px"></div>
<div class="bar " style="left:405px;top:309px;width:41px"></div>
<div class="bar " style="left:763px;top:309px;width:42px"></div>
<svg class="a" style="left:36px;top:331px" width="9" height="6"><path d="M1 5 L4.5 1.5 L8 5" stroke="#767b83" stroke-width="1.35" fill="none"/></svg>
<div class="a" style="left:48px;top:329.5px;width:12px;height:12px;border:1px solid #b8bcc2;border-radius:2px;background:#fff"></div>
<div class="a" style="left:64px;top:326px;width:15px;height:15px;background:#fbfbfb;border-radius:2px"></div>
<div class="a" style="left:65px;top:330.5px;width:13px;height:10px;border-radius:50% 50% 45% 45%;background:radial-gradient(ellipse at 45% 40%,#e0aa30,#c18a1b 65%,#92600f)"></div>
<svg class="a" style="left:64px;top:325px" width="15" height="8"><path d="M1 4.5 Q4 2.5 7 5.2" stroke="#4a4c50" stroke-width="1.1" fill="none"/><path d="M7 5.2 Q9 1.8 14 2" stroke="#2a2b2e" stroke-width="1.2" fill="none"/><circle cx="7" cy="5.4" r="1.3" fill="#111"/></svg>
<div class="a" style="left:83.80px;top:329px;font-size:9.45px;line-height:12px;color:#1f2125;-webkit-text-stroke:0.25px #1f2125;white-space:nowrap;transform:scaleX(0.889);transform-origin:0 0;">Maksim Kavaliou</div>
<div class="a" style="left:173.4px;top:330.3px;width:17.6px;height:9.9px;border:1px solid #c6c9ce;border-radius:5.5px;background:#f5f6f8"></div>
<div class="a" style="left:177.66px;top:331px;font-size:7.56px;line-height:10px;color:#6f747c;-webkit-text-stroke:0.1px #6f747c;white-space:nowrap;transform:scaleX(1.080);transform-origin:0 0;">37</div>
<div class="sq sqb" style="left:202px;top:334px"></div>
<div class="sq sqb" style="left:210px;top:334px"></div>
<div class="sq sqb" style="left:218px;top:334px"></div>
<div class="sq sqb" style="left:226px;top:334px"></div>
<div class="sq sqb" style="left:234px;top:334px"></div>
<div class="sq sqb" style="left:202px;top:342px"></div>
<div class="sq sqb" style="left:210px;top:342px"></div>
<div class="sq sqr" style="left:218px;top:342px"></div>
<div class="card cb" style="left:248px;top:334px;width:25.5px"><div class="ct">Editing<br>width</div></div>
<div class="card cb" style="left:289px;top:334px;width:108px"><div class="ct">All cards should be loaded<br>for global period</div></div>
<div class="card" style="left:404px;top:334px;width:108px"><div class="ct">Issue with card<br>position</div></div>
<div class="card cb" style="left:519px;top:334px;width:39px"><div class="ct">First label<br>scale should</div></div>
<div class="ln" style="left:567px;top:334px"></div>
<div class="card cb" style="left:585px;top:334px;width:115px"><div class="ct">Card position update every<br>200 ms by navigator position</div></div>
<div class="card" style="left:730px;top:334px;width:135px"><div class="ct">Issue with card<br>position</div></div>
<div class="card cb" style="left:248px;top:369.5px;width:49px"><div class="ct">Add refresh<br>button for</div></div>
<div class="card" style="left:354px;top:369.5px;width:35px"><div class="ct">Unnecessary<br>tracks are</div></div>
<div class="card cb" style="left:404px;top:369.5px;width:108px"><div class="ct">Edit scale smoothly when<br>change only one border of</div></div>
<div class="card" style="left:526px;top:369.5px;width:42px"><div class="ct">Planned card<br>details are</div></div>
<div class="card cb" style="left:569px;top:369.5px;width:105px"><div class="ct">Change a rule for default<br>local range calculation</div></div>
<div class="card" style="left:681px;top:369.5px;width:139px"><div class="ct">Build card<br>position issues</div></div>
<div class="card" style="left:830px;top:369.5px;width:35px"><div class="ct">Unnecessary<br>tracks are</div></div>
<div class="card" style="left:248px;top:405px;width:83px"><div class="ct">Incorrect card number<br>in navigator when</div></div>
<div class="card" style="left:354px;top:405px;width:35px"><div class="ct">Counter<br>updated</div></div>
<div class="ln" style="left:404px;top:405px"></div>
<div class="ln" style="left:537px;top:405px"></div>
<div class="card" style="left:560px;top:405px;width:24px"><div class="ct">Now<br>position</div></div>
<div class="ln" style="left:623.5px;top:405px"></div>
<div class="ln" style="left:747px;top:405px"></div>
<div class="card" style="left:798px;top:405px;width:67px"><div class="ct">All cards should be<br>for global period</div></div>
<div class="ln lnb" style="left:294.5px;top:440px"></div>
<div class="ln" style="left:298.5px;top:440px"></div>
<div class="card" style="left:354px;top:440px;width:139px"><div class="ct">Build card<br>position issues</div></div>
<div class="card" style="left:543px;top:440px;width:41px"><div class="ct">Now line is<br>above refresh</div></div>
<div class="card" style="left:623.5px;top:440px;width:51.5px"><div class="ct">Performance<br>issue</div></div>
<div class="card" style="left:691.5px;top:440px;width:111.5px"><div class="ct">Forecast card dissapears<br>when use context menu for it</div></div>
<div class="card" style="left:551px;top:475px;width:33px"><div class="ct">Row should<br>to min height</div></div>
<div class="a" style="left:534px;top:503px;width:33px;height:13px;background:#e3e5e9"></div>
<div class="a" style="left:865px;top:97px;width:1.5px;height:419px;background:#bfcca8"></div>
<div class="a" style="left:32px;top:516px;width:912px;height:37px;background:#eef0f4"></div>
<div class="a" style="left:208px;top:516px;width:658px;height:37px;background:#fff"></div>
<div class="a" style="left:207px;top:516px;width:1px;height:37px;background:#c8ccd2"></div>
<div class="a" style="left:866px;top:516px;width:1px;height:37px;background:#c8ccd2"></div>
<div class="a" style="left:32px;top:553px;width:912px;height:1px;background:#c8ccd2"></div>
<svg class="a" style="left:0;top:0" width="949" height="560" shape-rendering="geometricPrecision"><rect x="32.00" y="516.3" width="3.33" height="5.7" fill="#d3e0f1"/><rect x="32.45" y="516.3" width="2.43" height="5.7" fill="#c6d6ee"/><rect x="32.00" y="522" width="3.33" height="10.4" fill="#f3d5d8"/><rect x="32.45" y="522" width="2.43" height="10.4" fill="#efc9cd"/><rect x="35.33" y="516.3" width="3.33" height="5.7" fill="#d3e0f1"/><rect x="35.78" y="516.3" width="2.43" height="5.7" fill="#c6d6ee"/><rect x="35.33" y="522" width="3.33" height="10.4" fill="#f3d5d8"/><rect x="35.78" y="522" width="2.43" height="10.4" fill="#efc9cd"/><rect x="38.66" y="516.3" width="3.33" height="5.7" fill="#d3e0f1"/><rect x="39.11" y="516.3" width="2.43" height="5.7" fill="#c6d6ee"/><rect x="38.66" y="522" width="3.33" height="10.4" fill="#f3d5d8"/><rect x="39.11" y="522" width="2.43" height="10.4" fill="#efc9cd"/><rect x="41.99" y="516.3" width="3.33" height="5.7" fill="#d3e0f1"/><rect x="42.44" y="516.3" width="2.43" height="5.7" fill="#c6d6ee"/><rect x="41.99" y="522" width="3.33" height="10.4" fill="#f3d5d8"/><rect x="42.44" y="522" width="2.43" height="10.4" fill="#efc9cd"/><rect x="45.32" y="516.3" width="3.33" height="5.7" fill="#d3e0f1"/><rect x="45.77" y="516.3" width="2.43" height="5.7" fill="#c6d6ee"/><rect x="45.32" y="522" width="3.33" height="10.4" fill="#f3d5d8"/><rect x="45.77" y="522" width="2.43" height="10.4" fill="#efc9cd"/><rect x="48.65" y="516.3" width="3.33" height="5.7" fill="#d3e0f1"/><rect x="49.10" y="516.3" width="2.43" height="5.7" fill="#c6d6ee"/><rect x="48.65" y="522" width="3.33" height="10.4" fill="#f3d5d8"/><rect x="49.10" y="522" width="2.43" height="10.4" fill="#efc9cd"/><rect x="51.98" y="516.3" width="3.33" height="5.7" fill="#d3e0f1"/><rect x="52.43" y="516.3" width="2.43" height="5.7" fill="#c6d6ee"/><rect x="51.98" y="522" width="3.33" height="10.4" fill="#f3d5d8"/><rect x="52.43" y="522" width="2.43" height="10.4" fill="#efc9cd"/><rect x="55.31" y="516.3" width="3.33" height="5.7" fill="#d3e0f1"/><rect x="55.76" y="516.3" width="2.43" height="5.7" fill="#c6d6ee"/><rect x="55.31" y="522" width="3.33" height="19.9" fill="#f3d5d8"/><rect x="55.76" y="522" width="2.43" height="19.9" fill="#efc9cd"/><rect x="58.64" y="516.3" width="3.33" height="5.7" fill="#d3e0f1"/><rect x="59.09" y="516.3" width="2.43" height="5.7" fill="#c6d6ee"/><rect x="58.64" y="522" width="3.33" height="10.4" fill="#f3d5d8"/><rect x="59.09" y="522" width="2.43" height="10.4" fill="#efc9cd"/><rect x="61.97" y="516.3" width="3.33" height="5.7" fill="#d3e0f1"/><rect x="62.42" y="516.3" width="2.43" height="5.7" fill="#c6d6ee"/><rect x="61.97" y="522" width="3.33" height="10.4" fill="#f3d5d8"/><rect x="62.42" y="522" width="2.43" height="10.4" fill="#efc9cd"/><rect x="65.30" y="516.3" width="3.33" height="5.7" fill="#d3e0f1"/><rect x="65.75" y="516.3" width="2.43" height="5.7" fill="#c6d6ee"/><rect x="65.30" y="522" width="3.33" height="10.4" fill="#f3d5d8"/><rect x="65.75" y="522" width="2.43" height="10.4" fill="#efc9cd"/><rect x="68.63" y="516.3" width="3.33" height="5.7" fill="#d3e0f1"/><rect x="69.08" y="516.3" width="2.43" height="5.7" fill="#c6d6ee"/><rect x="68.63" y="522" width="3.33" height="10.4" fill="#f3d5d8"/><rect x="69.08" y="522" width="2.43" height="10.4" fill="#efc9cd"/><rect x="71.96" y="516.3" width="3.33" height="5.7" fill="#d3e0f1"/><rect x="72.41" y="516.3" width="2.43" height="5.7" fill="#c6d6ee"/><rect x="71.96" y="522" width="3.33" height="9.4" fill="#f3d5d8"/><rect x="72.41" y="522" width="2.43" height="9.4" fill="#efc9cd"/><rect x="75.29" y="516.3" width="3.33" height="5.7" fill="#d3e0f1"/><rect x="75.74" y="516.3" width="2.43" height="5.7" fill="#c6d6ee"/><rect x="75.29" y="522" width="3.33" height="9.4" fill="#f3d5d8"/><rect x="75.74" y="522" width="2.43" height="9.4" fill="#efc9cd"/><rect x="78.62" y="516.3" width="3.33" height="5.7" fill="#d3e0f1"/><rect x="79.07" y="516.3" width="2.43" height="5.7" fill="#c6d6ee"/><rect x="78.62" y="522" width="3.33" height="9.4" fill="#f3d5d8"/><rect x="79.07" y="522" width="2.43" height="9.4" fill="#efc9cd"/><rect x="81.95" y="516.3" width="3.33" height="5.7" fill="#d3e0f1"/><rect x="82.40" y="516.3" width="2.43" height="5.7" fill="#c6d6ee"/><rect x="81.95" y="522" width="3.33" height="9.4" fill="#f3d5d8"/><rect x="82.40" y="522" width="2.43" height="9.4" fill="#efc9cd"/><rect x="85.28" y="516.3" width="3.33" height="5.7" fill="#d3e0f1"/><rect x="85.73" y="516.3" width="2.43" height="5.7" fill="#c6d6ee"/><rect x="85.28" y="522" width="3.33" height="14.2" fill="#f3d5d8"/><rect x="85.73" y="522" width="2.43" height="14.2" fill="#efc9cd"/><rect x="88.61" y="516.3" width="3.33" height="5.7" fill="#d3e0f1"/><rect x="89.06" y="516.3" width="2.43" height="5.7" fill="#c6d6ee"/><rect x="88.61" y="522" width="3.33" height="14.2" fill="#f3d5d8"/><rect x="89.06" y="522" width="2.43" height="14.2" fill="#efc9cd"/><rect x="91.94" y="516.3" width="3.33" height="5.7" fill="#d3e0f1"/><rect x="92.39" y="516.3" width="2.43" height="5.7" fill="#c6d6ee"/><rect x="91.94" y="522" width="3.33" height="23.2" fill="#f3d5d8"/><rect x="92.39" y="522" width="2.43" height="23.2" fill="#efc9cd"/><rect x="95.27" y="516.3" width="3.33" height="5.7" fill="#d3e0f1"/><rect x="95.72" y="516.3" width="2.43" height="5.7" fill="#c6d6ee"/><rect x="95.27" y="522" width="3.33" height="23.2" fill="#f3d5d8"/><rect x="95.72" y="522" width="2.43" height="23.2" fill="#efc9cd"/><rect x="98.60" y="516.3" width="3.33" height="5.7" fill="#d3e0f1"/><rect x="99.05" y="516.3" width="2.43" height="5.7" fill="#c6d6ee"/><rect x="98.60" y="522" width="3.33" height="23.2" fill="#f3d5d8"/><rect x="99.05" y="522" width="2.43" height="23.2" fill="#efc9cd"/><rect x="101.93" y="516.3" width="3.33" height="5.7" fill="#d3e0f1"/><rect x="102.38" y="516.3" width="2.43" height="5.7" fill="#c6d6ee"/><rect x="101.93" y="522" width="3.33" height="17.6" fill="#f3d5d8"/><rect x="102.38" y="522" width="2.43" height="17.6" fill="#efc9cd"/><rect x="105.26" y="516.3" width="3.33" height="5.7" fill="#d3e0f1"/><rect x="105.71" y="516.3" width="2.43" height="5.7" fill="#c6d6ee"/><rect x="105.26" y="522" width="3.33" height="17.6" fill="#f3d5d8"/><rect x="105.71" y="522" width="2.43" height="17.6" fill="#efc9cd"/><rect x="108.59" y="516.3" width="3.33" height="5.7" fill="#d3e0f1"/><rect x="109.04" y="516.3" width="2.43" height="5.7" fill="#c6d6ee"/><rect x="108.59" y="522" width="3.33" height="17.6" fill="#f3d5d8"/><rect x="109.04" y="522" width="2.43" height="17.6" fill="#efc9cd"/><rect x="111.92" y="516.3" width="3.33" height="5.7" fill="#d3e0f1"/><rect x="112.37" y="516.3" width="2.43" height="5.7" fill="#c6d6ee"/><rect x="111.92" y="522" width="3.33" height="17.6" fill="#f3d5d8"/><rect x="112.37" y="522" width="2.43" height="17.6" fill="#efc9cd"/><rect x="115.25" y="516.3" width="3.33" height="5.7" fill="#d3e0f1"/><rect x="115.70" y="516.3" width="2.43" height="5.7" fill="#c6d6ee"/><rect x="115.25" y="522" width="3.33" height="17.6" fill="#f3d5d8"/><rect x="115.70" y="522" width="2.43" height="17.6" fill="#efc9cd"/><rect x="118.58" y="516.3" width="3.33" height="5.7" fill="#d3e0f1"/><rect x="119.03" y="516.3" width="2.43" height="5.7" fill="#c6d6ee"/><rect x="118.58" y="522" width="3.33" height="17.6" fill="#f3d5d8"/><rect x="119.03" y="522" width="2.43" height="17.6" fill="#efc9cd"/><rect x="121.91" y="516.3" width="3.33" height="5.7" fill="#d3e0f1"/><rect x="122.36" y="516.3" width="2.43" height="5.7" fill="#c6d6ee"/><rect x="121.91" y="522" width="3.33" height="17.6" fill="#f3d5d8"/><rect x="122.36" y="522" width="2.43" height="17.6" fill="#efc9cd"/><rect x="125.24" y="516.3" width="3.33" height="5.7" fill="#d3e0f1"/><rect x="125.69" y="516.3" width="2.43" height="5.7" fill="#c6d6ee"/><rect x="125.24" y="522" width="3.33" height="15.4" fill="#f3d5d8"/><rect x="125.69" y="522" width="2.43" height="15.4" fill="#efc9cd"/><rect x="128.57" y="516.3" width="3.33" height="5.7" fill="#d3e0f1"/><rect x="129.02" y="516.3" width="2.43" height="5.7" fill="#c6d6ee"/><rect x="128.57" y="522" width="3.33" height="16.4" fill="#f3d5d8"/><rect x="129.02" y="522" width="2.43" height="16.4" fill="#efc9cd"/><rect x="131.90" y="516.3" width="3.33" height="5.7" fill="#d3e0f1"/><rect x="132.35" y="516.3" width="2.43" height="5.7" fill="#c6d6ee"/><rect x="131.90" y="522" width="3.33" height="16.4" fill="#f3d5d8"/><rect x="132.35" y="522" width="2.43" height="16.4" fill="#efc9cd"/><rect x="135.23" y="516.3" width="3.33" height="5.7" fill="#d3e0f1"/><rect x="135.68" y="516.3" width="2.43" height="5.7" fill="#c6d6ee"/><rect x="135.23" y="522" width="3.33" height="13.7" fill="#f3d5d8"/><rect x="135.68" y="522" width="2.43" height="13.7" fill="#efc9cd"/><rect x="138.56" y="516.3" width="3.33" height="5.7" fill="#d3e0f1"/><rect x="139.01" y="516.3" width="2.43" height="5.7" fill="#c6d6ee"/><rect x="138.56" y="522" width="3.33" height="12.5" fill="#f3d5d8"/><rect x="139.01" y="522" width="2.43" height="12.5" fill="#efc9cd"/><rect x="141.89" y="516.3" width="3.33" height="5.7" fill="#d3e0f1"/><rect x="142.34" y="516.3" width="2.43" height="5.7" fill="#c6d6ee"/><rect x="141.89" y="522" width="3.33" height="11.1" fill="#f3d5d8"/><rect x="142.34" y="522" width="2.43" height="11.1" fill="#efc9cd"/><rect x="145.22" y="516.3" width="3.33" height="5.7" fill="#d3e0f1"/><rect x="145.67" y="516.3" width="2.43" height="5.7" fill="#c6d6ee"/><rect x="145.22" y="522" width="3.33" height="12.1" fill="#f3d5d8"/><rect x="145.67" y="522" width="2.43" height="12.1" fill="#efc9cd"/><rect x="148.55" y="516.3" width="3.33" height="5.7" fill="#d3e0f1"/><rect x="149.00" y="516.3" width="2.43" height="5.7" fill="#c6d6ee"/><rect x="148.55" y="522" width="3.33" height="10.3" fill="#f3d5d8"/><rect x="149.00" y="522" width="2.43" height="10.3" fill="#efc9cd"/><rect x="151.88" y="516.3" width="3.33" height="3.2" fill="#d3e0f1"/><rect x="152.33" y="516.3" width="2.43" height="3.2" fill="#c6d6ee"/><rect x="151.88" y="519.5" width="3.33" height="9.9" fill="#f3d5d8"/><rect x="152.33" y="519.5" width="2.43" height="9.9" fill="#efc9cd"/><rect x="155.21" y="516.3" width="3.33" height="3.2" fill="#d3e0f1"/><rect x="155.66" y="516.3" width="2.43" height="3.2" fill="#c6d6ee"/><rect x="155.21" y="519.5" width="3.33" height="9.9" fill="#f3d5d8"/><rect x="155.66" y="519.5" width="2.43" height="9.9" fill="#efc9cd"/><rect x="158.54" y="516.3" width="3.33" height="3.2" fill="#d3e0f1"/><rect x="158.99" y="516.3" width="2.43" height="3.2" fill="#c6d6ee"/><rect x="158.54" y="519.5" width="3.33" height="9.9" fill="#f3d5d8"/><rect x="158.99" y="519.5" width="2.43" height="9.9" fill="#efc9cd"/><rect x="161.87" y="516.3" width="3.33" height="3.2" fill="#d3e0f1"/><rect x="162.32" y="516.3" width="2.43" height="3.2" fill="#c6d6ee"/><rect x="161.87" y="519.5" width="3.33" height="9.9" fill="#f3d5d8"/><rect x="162.32" y="519.5" width="2.43" height="9.9" fill="#efc9cd"/><rect x="165.20" y="516.3" width="3.33" height="3.2" fill="#d3e0f1"/><rect x="165.65" y="516.3" width="2.43" height="3.2" fill="#c6d6ee"/><rect x="165.20" y="519.5" width="3.33" height="9.9" fill="#f3d5d8"/><rect x="165.65" y="519.5" width="2.43" height="9.9" fill="#efc9cd"/><rect x="168.53" y="516.3" width="3.33" height="3.2" fill="#d3e0f1"/><rect x="168.98" y="516.3" width="2.43" height="3.2" fill="#c6d6ee"/><rect x="168.53" y="519.5" width="3.33" height="9.9" fill="#f3d5d8"/><rect x="168.98" y="519.5" width="2.43" height="9.9" fill="#efc9cd"/><rect x="171.86" y="516.3" width="3.33" height="3.2" fill="#d3e0f1"/><rect x="172.31" y="516.3" width="2.43" height="3.2" fill="#c6d6ee"/><rect x="171.86" y="519.5" width="3.33" height="9.9" fill="#f3d5d8"/><rect x="172.31" y="519.5" width="2.43" height="9.9" fill="#efc9cd"/><rect x="175.19" y="516.3" width="3.33" height="3.2" fill="#d3e0f1"/><rect x="175.64" y="516.3" width="2.43" height="3.2" fill="#c6d6ee"/><rect x="175.19" y="519.5" width="3.33" height="9.9" fill="#f3d5d8"/><rect x="175.64" y="519.5" width="2.43" height="9.9" fill="#efc9cd"/><rect x="178.52" y="516.3" width="3.33" height="5.7" fill="#d3e0f1"/><rect x="178.97" y="516.3" width="2.43" height="5.7" fill="#c6d6ee"/><rect x="178.52" y="522" width="3.33" height="10.3" fill="#f3d5d8"/><rect x="178.97" y="522" width="2.43" height="10.3" fill="#efc9cd"/><rect x="181.85" y="516.3" width="3.33" height="3.7" fill="#d3e0f1"/><rect x="182.30" y="516.3" width="2.43" height="3.7" fill="#c6d6ee"/><rect x="181.85" y="520" width="3.33" height="8.5" fill="#f3d5d8"/><rect x="182.30" y="520" width="2.43" height="8.5" fill="#efc9cd"/><rect x="185.18" y="516.3" width="3.33" height="3.7" fill="#d3e0f1"/><rect x="185.63" y="516.3" width="2.43" height="3.7" fill="#c6d6ee"/><rect x="185.18" y="520" width="3.33" height="9.2" fill="#f3d5d8"/><rect x="185.63" y="520" width="2.43" height="9.2" fill="#efc9cd"/><rect x="188.51" y="516.3" width="3.33" height="2.2" fill="#d3e0f1"/><rect x="188.96" y="516.3" width="2.43" height="2.2" fill="#c6d6ee"/><rect x="188.51" y="518.5" width="3.33" height="8.0" fill="#f3d5d8"/><rect x="188.96" y="518.5" width="2.43" height="8.0" fill="#efc9cd"/><rect x="191.84" y="516.3" width="3.33" height="2.2" fill="#d3e0f1"/><rect x="192.29" y="516.3" width="2.43" height="2.2" fill="#c6d6ee"/><rect x="191.84" y="518.5" width="3.33" height="9.8" fill="#f3d5d8"/><rect x="192.29" y="518.5" width="2.43" height="9.8" fill="#efc9cd"/><rect x="195.17" y="516.3" width="3.33" height="2.2" fill="#d3e0f1"/><rect x="195.62" y="516.3" width="2.43" height="2.2" fill="#c6d6ee"/><rect x="195.17" y="518.5" width="3.33" height="9.8" fill="#f3d5d8"/><rect x="195.62" y="518.5" width="2.43" height="9.8" fill="#efc9cd"/><rect x="198.50" y="516.3" width="3.33" height="5.7" fill="#d3e0f1"/><rect x="198.95" y="516.3" width="2.43" height="5.7" fill="#c6d6ee"/><rect x="198.50" y="522" width="3.33" height="7.0" fill="#f3d5d8"/><rect x="198.95" y="522" width="2.43" height="7.0" fill="#efc9cd"/><rect x="201.83" y="516.3" width="3.33" height="5.7" fill="#d3e0f1"/><rect x="202.28" y="516.3" width="2.43" height="5.7" fill="#c6d6ee"/><rect x="201.83" y="522" width="3.33" height="7.0" fill="#f3d5d8"/><rect x="202.28" y="522" width="2.43" height="7.0" fill="#efc9cd"/><rect x="205.16" y="516.3" width="3.33" height="5.7" fill="#d3e0f1"/><rect x="205.61" y="516.3" width="2.43" height="5.7" fill="#c6d6ee"/><rect x="205.16" y="522" width="3.33" height="7.0" fill="#f3d5d8"/><rect x="205.61" y="522" width="2.43" height="7.0" fill="#efc9cd"/><rect x="208.00" y="516" width="3.32" height="4.0" fill="#89aee6"/><rect x="208.45" y="516" width="2.42" height="4.0" fill="#6898de"/><rect x="208.00" y="520.0" width="3.32" height="8.7" fill="#ea9794"/><rect x="208.45" y="520.0" width="2.42" height="8.7" fill="#e0625f"/><rect x="208.45" y="527.7" width="2.42" height="1" fill="#c9504d"/><rect x="211.32" y="516" width="3.32" height="4.0" fill="#89aee6"/><rect x="211.77" y="516" width="2.42" height="4.0" fill="#6898de"/><rect x="211.32" y="520.0" width="3.32" height="8.7" fill="#ea9794"/><rect x="211.77" y="520.0" width="2.42" height="8.7" fill="#e0625f"/><rect x="211.77" y="527.7" width="2.42" height="1" fill="#c9504d"/><rect x="214.64" y="516" width="3.32" height="4.0" fill="#89aee6"/><rect x="215.09" y="516" width="2.42" height="4.0" fill="#6898de"/><rect x="214.64" y="520.0" width="3.32" height="8.7" fill="#ea9794"/><rect x="215.09" y="520.0" width="2.42" height="8.7" fill="#e0625f"/><rect x="215.09" y="527.7" width="2.42" height="1" fill="#c9504d"/><rect x="217.97" y="516" width="3.32" height="4.0" fill="#89aee6"/><rect x="218.42" y="516" width="2.42" height="4.0" fill="#6898de"/><rect x="217.97" y="520.0" width="3.32" height="8.7" fill="#ea9794"/><rect x="218.42" y="520.0" width="2.42" height="8.7" fill="#e0625f"/><rect x="218.42" y="527.7" width="2.42" height="1" fill="#c9504d"/><rect x="221.29" y="516" width="3.32" height="4.0" fill="#89aee6"/><rect x="221.74" y="516" width="2.42" height="4.0" fill="#6898de"/><rect x="221.29" y="520.0" width="3.32" height="8.7" fill="#ea9794"/><rect x="221.74" y="520.0" width="2.42" height="8.7" fill="#e0625f"/><rect x="221.74" y="527.7" width="2.42" height="1" fill="#c9504d"/><rect x="224.61" y="516" width="3.32" height="4.0" fill="#89aee6"/><rect x="225.06" y="516" width="2.42" height="4.0" fill="#6898de"/><rect x="224.61" y="520.0" width="3.32" height="8.7" fill="#ea9794"/><rect x="225.06" y="520.0" width="2.42" height="8.7" fill="#e0625f"/><rect x="225.06" y="527.7" width="2.42" height="1" fill="#c9504d"/><rect x="227.93" y="516" width="3.32" height="4.0" fill="#89aee6"/><rect x="228.38" y="516" width="2.42" height="4.0" fill="#6898de"/><rect x="227.93" y="520.0" width="3.32" height="8.7" fill="#ea9794"/><rect x="228.38" y="520.0" width="2.42" height="8.7" fill="#e0625f"/><rect x="228.38" y="527.7" width="2.42" height="1" fill="#c9504d"/><rect x="231.26" y="516" width="3.32" height="2.0" fill="#89aee6"/><rect x="231.71" y="516" width="2.42" height="2.0" fill="#6898de"/><rect x="231.26" y="518.0" width="3.32" height="9.0" fill="#ea9794"/><rect x="231.71" y="518.0" width="2.42" height="9.0" fill="#e0625f"/><rect x="231.71" y="526.0" width="2.42" height="1" fill="#c9504d"/><rect x="234.58" y="516" width="3.32" height="2.0" fill="#89aee6"/><rect x="235.03" y="516" width="2.42" height="2.0" fill="#6898de"/><rect x="234.58" y="518.0" width="3.32" height="9.0" fill="#ea9794"/><rect x="235.03" y="518.0" width="2.42" height="9.0" fill="#e0625f"/><rect x="235.03" y="526.0" width="2.42" height="1" fill="#c9504d"/><rect x="237.90" y="516" width="3.32" height="2.0" fill="#89aee6"/><rect x="238.35" y="516" width="2.42" height="2.0" fill="#6898de"/><rect x="237.90" y="518.0" width="3.32" height="9.0" fill="#ea9794"/><rect x="238.35" y="518.0" width="2.42" height="9.0" fill="#e0625f"/><rect x="238.35" y="526.0" width="2.42" height="1" fill="#c9504d"/><rect x="241.22" y="516" width="3.32" height="4.0" fill="#89aee6"/><rect x="241.67" y="516" width="2.42" height="4.0" fill="#6898de"/><rect x="241.22" y="520.0" width="3.32" height="9.0" fill="#ea9794"/><rect x="241.67" y="520.0" width="2.42" height="9.0" fill="#e0625f"/><rect x="241.67" y="528.0" width="2.42" height="1" fill="#c9504d"/><rect x="244.55" y="516" width="3.32" height="6.0" fill="#89aee6"/><rect x="245.00" y="516" width="2.42" height="6.0" fill="#6898de"/><rect x="244.55" y="522.0" width="3.32" height="12.2" fill="#ea9794"/><rect x="245.00" y="522.0" width="2.42" height="12.2" fill="#e0625f"/><rect x="245.00" y="533.2" width="2.42" height="1" fill="#c9504d"/><rect x="247.87" y="516" width="3.32" height="3.5" fill="#89aee6"/><rect x="248.32" y="516" width="2.42" height="3.5" fill="#6898de"/><rect x="247.87" y="519.5" width="3.32" height="10.0" fill="#ea9794"/><rect x="248.32" y="519.5" width="2.42" height="10.0" fill="#e0625f"/><rect x="248.32" y="528.5" width="2.42" height="1" fill="#c9504d"/><rect x="251.19" y="516" width="3.32" height="6.0" fill="#89aee6"/><rect x="251.64" y="516" width="2.42" height="6.0" fill="#6898de"/><rect x="251.19" y="522.0" width="3.32" height="12.2" fill="#ea9794"/><rect x="251.64" y="522.0" width="2.42" height="12.2" fill="#e0625f"/><rect x="251.64" y="533.2" width="2.42" height="1" fill="#c9504d"/><rect x="254.51" y="516" width="3.32" height="4.0" fill="#89aee6"/><rect x="254.96" y="516" width="2.42" height="4.0" fill="#6898de"/><rect x="254.51" y="520.0" width="3.32" height="9.8" fill="#ea9794"/><rect x="254.96" y="520.0" width="2.42" height="9.8" fill="#e0625f"/><rect x="254.96" y="528.8" width="2.42" height="1" fill="#c9504d"/><rect x="257.84" y="516" width="3.32" height="4.0" fill="#89aee6"/><rect x="258.29" y="516" width="2.42" height="4.0" fill="#6898de"/><rect x="257.84" y="520.0" width="3.32" height="9.8" fill="#ea9794"/><rect x="258.29" y="520.0" width="2.42" height="9.8" fill="#e0625f"/><rect x="258.29" y="528.8" width="2.42" height="1" fill="#c9504d"/><rect x="261.16" y="516" width="3.32" height="4.0" fill="#89aee6"/><rect x="261.61" y="516" width="2.42" height="4.0" fill="#6898de"/><rect x="261.16" y="520.0" width="3.32" height="8.7" fill="#ea9794"/><rect x="261.61" y="520.0" width="2.42" height="8.7" fill="#e0625f"/><rect x="261.61" y="527.7" width="2.42" height="1" fill="#c9504d"/><rect x="264.48" y="516" width="3.32" height="4.0" fill="#89aee6"/><rect x="264.93" y="516" width="2.42" height="4.0" fill="#6898de"/><rect x="264.48" y="520.0" width="3.32" height="8.7" fill="#ea9794"/><rect x="264.93" y="520.0" width="2.42" height="8.7" fill="#e0625f"/><rect x="264.93" y="527.7" width="2.42" height="1" fill="#c9504d"/><rect x="267.80" y="516" width="3.32" height="4.0" fill="#89aee6"/><rect x="268.25" y="516" width="2.42" height="4.0" fill="#6898de"/><rect x="267.80" y="520.0" width="3.32" height="8.7" fill="#ea9794"/><rect x="268.25" y="520.0" width="2.42" height="8.7" fill="#e0625f"/><rect x="268.25" y="527.7" width="2.42" height="1" fill="#c9504d"/><rect x="271.13" y="516" width="3.32" height="4.0" fill="#89aee6"/><rect x="271.58" y="516" width="2.42" height="4.0" fill="#6898de"/><rect x="271.13" y="520.0" width="3.32" height="8.7" fill="#ea9794"/><rect x="271.58" y="520.0" width="2.42" height="8.7" fill="#e0625f"/><rect x="271.58" y="527.7" width="2.42" height="1" fill="#c9504d"/><rect x="274.45" y="516" width="3.32" height="4.0" fill="#89aee6"/><rect x="274.90" y="516" width="2.42" height="4.0" fill="#6898de"/><rect x="274.45" y="520.0" width="3.32" height="8.7" fill="#ea9794"/><rect x="274.90" y="520.0" width="2.42" height="8.7" fill="#e0625f"/><rect x="274.90" y="527.7" width="2.42" height="1" fill="#c9504d"/><rect x="277.77" y="516" width="3.32" height="4.0" fill="#89aee6"/><rect x="278.22" y="516" width="2.42" height="4.0" fill="#6898de"/><rect x="277.77" y="520.0" width="3.32" height="8.7" fill="#ea9794"/><rect x="278.22" y="520.0" width="2.42" height="8.7" fill="#e0625f"/><rect x="278.22" y="527.7" width="2.42" height="1" fill="#c9504d"/><rect x="281.09" y="516" width="3.32" height="4.0" fill="#89aee6"/><rect x="281.54" y="516" width="2.42" height="4.0" fill="#6898de"/><rect x="281.09" y="520.0" width="3.32" height="8.7" fill="#ea9794"/><rect x="281.54" y="520.0" width="2.42" height="8.7" fill="#e0625f"/><rect x="281.54" y="527.7" width="2.42" height="1" fill="#c9504d"/><rect x="284.42" y="516" width="3.32" height="4.0" fill="#89aee6"/><rect x="284.87" y="516" width="2.42" height="4.0" fill="#6898de"/><rect x="284.42" y="520.0" width="3.32" height="7.0" fill="#ea9794"/><rect x="284.87" y="520.0" width="2.42" height="7.0" fill="#e0625f"/><rect x="284.87" y="526.0" width="2.42" height="1" fill="#c9504d"/><rect x="287.74" y="516" width="3.32" height="6.3" fill="#89aee6"/><rect x="288.19" y="516" width="2.42" height="6.3" fill="#6898de"/><rect x="287.74" y="522.3" width="3.32" height="14.1" fill="#ea9794"/><rect x="288.19" y="522.3" width="2.42" height="14.1" fill="#e0625f"/><rect x="288.19" y="535.4" width="2.42" height="1" fill="#c9504d"/><rect x="291.06" y="516" width="3.32" height="6.3" fill="#89aee6"/><rect x="291.51" y="516" width="2.42" height="6.3" fill="#6898de"/><rect x="291.06" y="522.3" width="3.32" height="14.1" fill="#ea9794"/><rect x="291.51" y="522.3" width="2.42" height="14.1" fill="#e0625f"/><rect x="291.51" y="535.4" width="2.42" height="1" fill="#c9504d"/><rect x="294.38" y="516" width="3.32" height="6.3" fill="#89aee6"/><rect x="294.83" y="516" width="2.42" height="6.3" fill="#6898de"/><rect x="294.38" y="522.3" width="3.32" height="11.7" fill="#ea9794"/><rect x="294.83" y="522.3" width="2.42" height="11.7" fill="#e0625f"/><rect x="294.83" y="533.0" width="2.42" height="1" fill="#c9504d"/><rect x="297.71" y="516" width="3.32" height="6.3" fill="#89aee6"/><rect x="298.16" y="516" width="2.42" height="6.3" fill="#6898de"/><rect x="297.71" y="522.3" width="3.32" height="11.7" fill="#ea9794"/><rect x="298.16" y="522.3" width="2.42" height="11.7" fill="#e0625f"/><rect x="298.16" y="533.0" width="2.42" height="1" fill="#c9504d"/><rect x="301.03" y="516" width="3.32" height="8.0" fill="#89aee6"/><rect x="301.48" y="516" width="2.42" height="8.0" fill="#6898de"/><rect x="301.03" y="524.0" width="3.32" height="17.5" fill="#ea9794"/><rect x="301.48" y="524.0" width="2.42" height="17.5" fill="#e0625f"/><rect x="301.48" y="540.5" width="2.42" height="1" fill="#c9504d"/><rect x="304.35" y="516" width="3.32" height="8.0" fill="#89aee6"/><rect x="304.80" y="516" width="2.42" height="8.0" fill="#6898de"/><rect x="304.35" y="524.0" width="3.32" height="14.0" fill="#ea9794"/><rect x="304.80" y="524.0" width="2.42" height="14.0" fill="#e0625f"/><rect x="304.80" y="537.0" width="2.42" height="1" fill="#c9504d"/><rect x="307.67" y="516" width="3.32" height="8.0" fill="#89aee6"/><rect x="308.12" y="516" width="2.42" height="8.0" fill="#6898de"/><rect x="307.67" y="524.0" width="3.32" height="25.3" fill="#ea9794"/><rect x="308.12" y="524.0" width="2.42" height="25.3" fill="#e0625f"/><rect x="308.12" y="548.3" width="2.42" height="1" fill="#c9504d"/><rect x="311.00" y="516" width="3.32" height="8.0" fill="#89aee6"/><rect x="311.45" y="516" width="2.42" height="8.0" fill="#6898de"/><rect x="311.00" y="524.0" width="3.32" height="17.5" fill="#ea9794"/><rect x="311.45" y="524.0" width="2.42" height="17.5" fill="#e0625f"/><rect x="311.45" y="540.5" width="2.42" height="1" fill="#c9504d"/><rect x="314.32" y="516" width="3.32" height="8.0" fill="#89aee6"/><rect x="314.77" y="516" width="2.42" height="8.0" fill="#6898de"/><rect x="314.32" y="524.0" width="3.32" height="17.5" fill="#ea9794"/><rect x="314.77" y="524.0" width="2.42" height="17.5" fill="#e0625f"/><rect x="314.77" y="540.5" width="2.42" height="1" fill="#c9504d"/><rect x="317.64" y="516" width="3.32" height="8.0" fill="#89aee6"/><rect x="318.09" y="516" width="2.42" height="8.0" fill="#6898de"/><rect x="317.64" y="524.0" width="3.32" height="16.5" fill="#ea9794"/><rect x="318.09" y="524.0" width="2.42" height="16.5" fill="#e0625f"/><rect x="318.09" y="539.5" width="2.42" height="1" fill="#c9504d"/><rect x="320.96" y="516" width="3.32" height="8.0" fill="#89aee6"/><rect x="321.41" y="516" width="2.42" height="8.0" fill="#6898de"/><rect x="320.96" y="524.0" width="3.32" height="16.5" fill="#ea9794"/><rect x="321.41" y="524.0" width="2.42" height="16.5" fill="#e0625f"/><rect x="321.41" y="539.5" width="2.42" height="1" fill="#c9504d"/><rect x="324.29" y="516" width="3.32" height="8.0" fill="#89aee6"/><rect x="324.74" y="516" width="2.42" height="8.0" fill="#6898de"/><rect x="324.29" y="524.0" width="3.32" height="16.5" fill="#ea9794"/><rect x="324.74" y="524.0" width="2.42" height="16.5" fill="#e0625f"/><rect x="324.74" y="539.5" width="2.42" height="1" fill="#c9504d"/><rect x="327.61" y="516" width="3.32" height="8.0" fill="#89aee6"/><rect x="328.06" y="516" width="2.42" height="8.0" fill="#6898de"/><rect x="327.61" y="524.0" width="3.32" height="16.5" fill="#ea9794"/><rect x="328.06" y="524.0" width="2.42" height="16.5" fill="#e0625f"/><rect x="328.06" y="539.5" width="2.42" height="1" fill="#c9504d"/><rect x="330.93" y="516" width="3.32" height="8.0" fill="#89aee6"/><rect x="331.38" y="516" width="2.42" height="8.0" fill="#6898de"/><rect x="330.93" y="524.0" width="3.32" height="16.5" fill="#ea9794"/><rect x="331.38" y="524.0" width="2.42" height="16.5" fill="#e0625f"/><rect x="331.38" y="539.5" width="2.42" height="1" fill="#c9504d"/><rect x="334.25" y="516" width="3.32" height="8.0" fill="#89aee6"/><rect x="334.70" y="516" width="2.42" height="8.0" fill="#6898de"/><rect x="334.25" y="524.0" width="3.32" height="16.5" fill="#ea9794"/><rect x="334.70" y="524.0" width="2.42" height="16.5" fill="#e0625f"/><rect x="334.70" y="539.5" width="2.42" height="1" fill="#c9504d"/><rect x="337.58" y="516" width="3.32" height="8.0" fill="#89aee6"/><rect x="338.03" y="516" width="2.42" height="8.0" fill="#6898de"/><rect x="337.58" y="524.0" width="3.32" height="17.5" fill="#ea9794"/><rect x="338.03" y="524.0" width="2.42" height="17.5" fill="#e0625f"/><rect x="338.03" y="540.5" width="2.42" height="1" fill="#c9504d"/><rect x="340.90" y="516" width="3.32" height="8.0" fill="#89aee6"/><rect x="341.35" y="516" width="2.42" height="8.0" fill="#6898de"/><rect x="340.90" y="524.0" width="3.32" height="10.0" fill="#ea9794"/><rect x="341.35" y="524.0" width="2.42" height="10.0" fill="#e0625f"/><rect x="341.35" y="533.0" width="2.42" height="1" fill="#c9504d"/><rect x="344.22" y="516" width="3.32" height="8.0" fill="#89aee6"/><rect x="344.67" y="516" width="2.42" height="8.0" fill="#6898de"/><rect x="344.22" y="524.0" width="3.32" height="12.4" fill="#ea9794"/><rect x="344.67" y="524.0" width="2.42" height="12.4" fill="#e0625f"/><rect x="344.67" y="535.4" width="2.42" height="1" fill="#c9504d"/><rect x="347.54" y="516" width="3.32" height="4.0" fill="#89aee6"/><rect x="347.99" y="516" width="2.42" height="4.0" fill="#6898de"/><rect x="347.54" y="520.0" width="3.32" height="9.8" fill="#ea9794"/><rect x="347.99" y="520.0" width="2.42" height="9.8" fill="#e0625f"/><rect x="347.99" y="528.8" width="2.42" height="1" fill="#c9504d"/><rect x="350.86" y="516" width="3.32" height="8.0" fill="#89aee6"/><rect x="351.31" y="516" width="2.42" height="8.0" fill="#6898de"/><rect x="350.86" y="524.0" width="3.32" height="12.4" fill="#ea9794"/><rect x="351.31" y="524.0" width="2.42" height="12.4" fill="#e0625f"/><rect x="351.31" y="535.4" width="2.42" height="1" fill="#c9504d"/><rect x="354.19" y="516" width="3.32" height="8.0" fill="#89aee6"/><rect x="354.64" y="516" width="2.42" height="8.0" fill="#6898de"/><rect x="354.19" y="524.0" width="3.32" height="14.0" fill="#ea9794"/><rect x="354.64" y="524.0" width="2.42" height="14.0" fill="#e0625f"/><rect x="354.64" y="537.0" width="2.42" height="1" fill="#c9504d"/><rect x="357.51" y="516" width="3.32" height="8.0" fill="#89aee6"/><rect x="357.96" y="516" width="2.42" height="8.0" fill="#6898de"/><rect x="357.51" y="524.0" width="3.32" height="14.0" fill="#ea9794"/><rect x="357.96" y="524.0" width="2.42" height="14.0" fill="#e0625f"/><rect x="357.96" y="537.0" width="2.42" height="1" fill="#c9504d"/><rect x="360.83" y="516" width="3.32" height="8.0" fill="#89aee6"/><rect x="361.28" y="516" width="2.42" height="8.0" fill="#6898de"/><rect x="360.83" y="524.0" width="3.32" height="14.0" fill="#ea9794"/><rect x="361.28" y="524.0" width="2.42" height="14.0" fill="#e0625f"/><rect x="361.28" y="537.0" width="2.42" height="1" fill="#c9504d"/><rect x="364.15" y="516" width="3.32" height="8.0" fill="#89aee6"/><rect x="364.60" y="516" width="2.42" height="8.0" fill="#6898de"/><rect x="364.15" y="524.0" width="3.32" height="16.0" fill="#ea9794"/><rect x="364.60" y="524.0" width="2.42" height="16.0" fill="#e0625f"/><rect x="364.60" y="539.0" width="2.42" height="1" fill="#c9504d"/><rect x="367.48" y="516" width="3.32" height="8.0" fill="#89aee6"/><rect x="367.93" y="516" width="2.42" height="8.0" fill="#6898de"/><rect x="367.48" y="524.0" width="3.32" height="23.0" fill="#ea9794"/><rect x="367.93" y="524.0" width="2.42" height="23.0" fill="#e0625f"/><rect x="367.93" y="546.0" width="2.42" height="1" fill="#c9504d"/><rect x="370.80" y="516" width="3.32" height="8.0" fill="#89aee6"/><rect x="371.25" y="516" width="2.42" height="8.0" fill="#6898de"/><rect x="370.80" y="524.0" width="3.32" height="21.6" fill="#ea9794"/><rect x="371.25" y="524.0" width="2.42" height="21.6" fill="#e0625f"/><rect x="371.25" y="544.6" width="2.42" height="1" fill="#c9504d"/><rect x="374.12" y="516" width="3.32" height="8.0" fill="#89aee6"/><rect x="374.57" y="516" width="2.42" height="8.0" fill="#6898de"/><rect x="374.12" y="524.0" width="3.32" height="21.6" fill="#ea9794"/><rect x="374.57" y="524.0" width="2.42" height="21.6" fill="#e0625f"/><rect x="374.57" y="544.6" width="2.42" height="1" fill="#c9504d"/><rect x="377.44" y="516" width="3.32" height="8.0" fill="#89aee6"/><rect x="377.89" y="516" width="2.42" height="8.0" fill="#6898de"/><rect x="377.44" y="524.0" width="3.32" height="21.6" fill="#ea9794"/><rect x="377.89" y="524.0" width="2.42" height="21.6" fill="#e0625f"/><rect x="377.89" y="544.6" width="2.42" height="1" fill="#c9504d"/><rect x="380.77" y="516" width="3.32" height="8.0" fill="#89aee6"/><rect x="381.22" y="516" width="2.42" height="8.0" fill="#6898de"/><rect x="380.77" y="524.0" width="3.32" height="21.6" fill="#ea9794"/><rect x="381.22" y="524.0" width="2.42" height="21.6" fill="#e0625f"/><rect x="381.22" y="544.6" width="2.42" height="1" fill="#c9504d"/><rect x="384.09" y="516" width="3.32" height="8.0" fill="#89aee6"/><rect x="384.54" y="516" width="2.42" height="8.0" fill="#6898de"/><rect x="384.09" y="524.0" width="3.32" height="21.6" fill="#ea9794"/><rect x="384.54" y="524.0" width="2.42" height="21.6" fill="#e0625f"/><rect x="384.54" y="544.6" width="2.42" height="1" fill="#c9504d"/><rect x="387.41" y="516" width="3.32" height="8.0" fill="#89aee6"/><rect x="387.86" y="516" width="2.42" height="8.0" fill="#6898de"/><rect x="387.41" y="524.0" width="3.32" height="21.6" fill="#ea9794"/><rect x="387.86" y="524.0" width="2.42" height="21.6" fill="#e0625f"/><rect x="387.86" y="544.6" width="2.42" height="1" fill="#c9504d"/><rect x="390.73" y="516" width="3.32" height="6.0" fill="#89aee6"/><rect x="391.18" y="516" width="2.42" height="6.0" fill="#6898de"/><rect x="390.73" y="522.0" width="3.32" height="16.0" fill="#ea9794"/><rect x="391.18" y="522.0" width="2.42" height="16.0" fill="#e0625f"/><rect x="391.18" y="537.0" width="2.42" height="1" fill="#c9504d"/><rect x="394.06" y="516" width="3.32" height="6.0" fill="#89aee6"/><rect x="394.51" y="516" width="2.42" height="6.0" fill="#6898de"/><rect x="394.06" y="522.0" width="3.32" height="16.0" fill="#ea9794"/><rect x="394.51" y="522.0" width="2.42" height="16.0" fill="#e0625f"/><rect x="394.51" y="537.0" width="2.42" height="1" fill="#c9504d"/><rect x="397.38" y="516" width="3.32" height="6.0" fill="#89aee6"/><rect x="397.83" y="516" width="2.42" height="6.0" fill="#6898de"/><rect x="397.38" y="522.0" width="3.32" height="16.0" fill="#ea9794"/><rect x="397.83" y="522.0" width="2.42" height="16.0" fill="#e0625f"/><rect x="397.83" y="537.0" width="2.42" height="1" fill="#c9504d"/><rect x="400.70" y="516" width="3.32" height="6.0" fill="#89aee6"/><rect x="401.15" y="516" width="2.42" height="6.0" fill="#6898de"/><rect x="400.70" y="522.0" width="3.32" height="16.0" fill="#ea9794"/><rect x="401.15" y="522.0" width="2.42" height="16.0" fill="#e0625f"/><rect x="401.15" y="537.0" width="2.42" height="1" fill="#c9504d"/><rect x="404.02" y="516" width="3.32" height="6.0" fill="#89aee6"/><rect x="404.47" y="516" width="2.42" height="6.0" fill="#6898de"/><rect x="404.02" y="522.0" width="3.32" height="17.4" fill="#ea9794"/><rect x="404.47" y="522.0" width="2.42" height="17.4" fill="#e0625f"/><rect x="404.47" y="538.4" width="2.42" height="1" fill="#c9504d"/><rect x="407.35" y="516" width="3.32" height="6.0" fill="#89aee6"/><rect x="407.80" y="516" width="2.42" height="6.0" fill="#6898de"/><rect x="407.35" y="522.0" width="3.32" height="9.9" fill="#ea9794"/><rect x="407.80" y="522.0" width="2.42" height="9.9" fill="#e0625f"/><rect x="407.80" y="530.9" width="2.42" height="1" fill="#c9504d"/><rect x="410.67" y="516" width="3.32" height="6.0" fill="#89aee6"/><rect x="411.12" y="516" width="2.42" height="6.0" fill="#6898de"/><rect x="410.67" y="522.0" width="3.32" height="14.0" fill="#ea9794"/><rect x="411.12" y="522.0" width="2.42" height="14.0" fill="#e0625f"/><rect x="411.12" y="535.0" width="2.42" height="1" fill="#c9504d"/><rect x="413.99" y="516" width="3.32" height="6.0" fill="#89aee6"/><rect x="414.44" y="516" width="2.42" height="6.0" fill="#6898de"/><rect x="413.99" y="522.0" width="3.32" height="10.3" fill="#ea9794"/><rect x="414.44" y="522.0" width="2.42" height="10.3" fill="#e0625f"/><rect x="414.44" y="531.3" width="2.42" height="1" fill="#c9504d"/><rect x="417.31" y="516" width="3.32" height="6.0" fill="#89aee6"/><rect x="417.76" y="516" width="2.42" height="6.0" fill="#6898de"/><rect x="417.31" y="522.0" width="3.32" height="10.3" fill="#ea9794"/><rect x="417.76" y="522.0" width="2.42" height="10.3" fill="#e0625f"/><rect x="417.76" y="531.3" width="2.42" height="1" fill="#c9504d"/><rect x="420.64" y="516" width="3.32" height="6.0" fill="#89aee6"/><rect x="421.09" y="516" width="2.42" height="6.0" fill="#6898de"/><rect x="420.64" y="522.0" width="3.32" height="10.3" fill="#ea9794"/><rect x="421.09" y="522.0" width="2.42" height="10.3" fill="#e0625f"/><rect x="421.09" y="531.3" width="2.42" height="1" fill="#c9504d"/><rect x="423.96" y="516" width="3.32" height="6.0" fill="#89aee6"/><rect x="424.41" y="516" width="2.42" height="6.0" fill="#6898de"/><rect x="423.96" y="522.0" width="3.32" height="10.3" fill="#ea9794"/><rect x="424.41" y="522.0" width="2.42" height="10.3" fill="#e0625f"/><rect x="424.41" y="531.3" width="2.42" height="1" fill="#c9504d"/><rect x="427.28" y="516" width="3.32" height="6.0" fill="#89aee6"/><rect x="427.73" y="516" width="2.42" height="6.0" fill="#6898de"/><rect x="427.28" y="522.0" width="3.32" height="10.3" fill="#ea9794"/><rect x="427.73" y="522.0" width="2.42" height="10.3" fill="#e0625f"/><rect x="427.73" y="531.3" width="2.42" height="1" fill="#c9504d"/><rect x="430.60" y="516" width="3.32" height="6.0" fill="#89aee6"/><rect x="431.05" y="516" width="2.42" height="6.0" fill="#6898de"/><rect x="430.60" y="522.0" width="3.32" height="10.3" fill="#ea9794"/><rect x="431.05" y="522.0" width="2.42" height="10.3" fill="#e0625f"/><rect x="431.05" y="531.3" width="2.42" height="1" fill="#c9504d"/><rect x="433.93" y="516" width="3.32" height="6.0" fill="#89aee6"/><rect x="434.38" y="516" width="2.42" height="6.0" fill="#6898de"/><rect x="433.93" y="522.0" width="3.32" height="10.3" fill="#ea9794"/><rect x="434.38" y="522.0" width="2.42" height="10.3" fill="#e0625f"/><rect x="434.38" y="531.3" width="2.42" height="1" fill="#c9504d"/><rect x="437.25" y="516" width="3.32" height="6.0" fill="#89aee6"/><rect x="437.70" y="516" width="2.42" height="6.0" fill="#6898de"/><rect x="437.25" y="522.0" width="3.32" height="10.3" fill="#ea9794"/><rect x="437.70" y="522.0" width="2.42" height="10.3" fill="#e0625f"/><rect x="437.70" y="531.3" width="2.42" height="1" fill="#c9504d"/><rect x="440.57" y="516" width="3.32" height="6.0" fill="#89aee6"/><rect x="441.02" y="516" width="2.42" height="6.0" fill="#6898de"/><rect x="440.57" y="522.0" width="3.32" height="12.0" fill="#ea9794"/><rect x="441.02" y="522.0" width="2.42" height="12.0" fill="#e0625f"/><rect x="441.02" y="533.0" width="2.42" height="1" fill="#c9504d"/><rect x="443.89" y="516" width="3.32" height="6.0" fill="#89aee6"/><rect x="444.34" y="516" width="2.42" height="6.0" fill="#6898de"/><rect x="443.89" y="522.0" width="3.32" height="9.9" fill="#ea9794"/><rect x="444.34" y="522.0" width="2.42" height="9.9" fill="#e0625f"/><rect x="444.34" y="530.9" width="2.42" height="1" fill="#c9504d"/><rect x="447.22" y="516" width="3.32" height="6.0" fill="#89aee6"/><rect x="447.67" y="516" width="2.42" height="6.0" fill="#6898de"/><rect x="447.22" y="522.0" width="3.32" height="12.0" fill="#ea9794"/><rect x="447.67" y="522.0" width="2.42" height="12.0" fill="#e0625f"/><rect x="447.67" y="533.0" width="2.42" height="1" fill="#c9504d"/><rect x="450.54" y="516" width="3.32" height="6.0" fill="#89aee6"/><rect x="450.99" y="516" width="2.42" height="6.0" fill="#6898de"/><rect x="450.54" y="522.0" width="3.32" height="16.0" fill="#ea9794"/><rect x="450.99" y="522.0" width="2.42" height="16.0" fill="#e0625f"/><rect x="450.99" y="537.0" width="2.42" height="1" fill="#c9504d"/><rect x="453.86" y="516" width="3.32" height="4.0" fill="#89aee6"/><rect x="454.31" y="516" width="2.42" height="4.0" fill="#6898de"/><rect x="453.86" y="520.0" width="3.32" height="16.0" fill="#ea9794"/><rect x="454.31" y="520.0" width="2.42" height="16.0" fill="#e0625f"/><rect x="454.31" y="535.0" width="2.42" height="1" fill="#c9504d"/><rect x="457.18" y="516" width="3.32" height="8.0" fill="#89aee6"/><rect x="457.63" y="516" width="2.42" height="8.0" fill="#6898de"/><rect x="457.18" y="524.0" width="3.32" height="25.0" fill="#ea9794"/><rect x="457.63" y="524.0" width="2.42" height="25.0" fill="#e0625f"/><rect x="457.63" y="548.0" width="2.42" height="1" fill="#c9504d"/><rect x="460.51" y="516" width="3.32" height="8.0" fill="#89aee6"/><rect x="460.96" y="516" width="2.42" height="8.0" fill="#6898de"/><rect x="460.51" y="524.0" width="3.32" height="15.4" fill="#ea9794"/><rect x="460.96" y="524.0" width="2.42" height="15.4" fill="#e0625f"/><rect x="460.96" y="538.4" width="2.42" height="1" fill="#c9504d"/><rect x="463.83" y="516" width="3.32" height="8.0" fill="#89aee6"/><rect x="464.28" y="516" width="2.42" height="8.0" fill="#6898de"/><rect x="463.83" y="524.0" width="3.32" height="23.0" fill="#ea9794"/><rect x="464.28" y="524.0" width="2.42" height="23.0" fill="#e0625f"/><rect x="464.28" y="546.0" width="2.42" height="1" fill="#c9504d"/><rect x="467.15" y="516" width="3.32" height="8.0" fill="#89aee6"/><rect x="467.60" y="516" width="2.42" height="8.0" fill="#6898de"/><rect x="467.15" y="524.0" width="3.32" height="16.0" fill="#ea9794"/><rect x="467.60" y="524.0" width="2.42" height="16.0" fill="#e0625f"/><rect x="467.60" y="539.0" width="2.42" height="1" fill="#c9504d"/><rect x="470.47" y="516" width="3.32" height="8.0" fill="#89aee6"/><rect x="470.92" y="516" width="2.42" height="8.0" fill="#6898de"/><rect x="470.47" y="524.0" width="3.32" height="19.2" fill="#ea9794"/><rect x="470.92" y="524.0" width="2.42" height="19.2" fill="#e0625f"/><rect x="470.92" y="542.2" width="2.42" height="1" fill="#c9504d"/><rect x="473.79" y="516" width="3.32" height="6.0" fill="#89aee6"/><rect x="474.24" y="516" width="2.42" height="6.0" fill="#6898de"/><rect x="473.79" y="522.0" width="3.32" height="16.0" fill="#ea9794"/><rect x="474.24" y="522.0" width="2.42" height="16.0" fill="#e0625f"/><rect x="474.24" y="537.0" width="2.42" height="1" fill="#c9504d"/><rect x="477.12" y="516" width="3.32" height="6.0" fill="#89aee6"/><rect x="477.57" y="516" width="2.42" height="6.0" fill="#6898de"/><rect x="477.12" y="522.0" width="3.32" height="16.0" fill="#ea9794"/><rect x="477.57" y="522.0" width="2.42" height="16.0" fill="#e0625f"/><rect x="477.57" y="537.0" width="2.42" height="1" fill="#c9504d"/><rect x="480.44" y="516" width="3.32" height="6.0" fill="#89aee6"/><rect x="480.89" y="516" width="2.42" height="6.0" fill="#6898de"/><rect x="480.44" y="522.0" width="3.32" height="16.0" fill="#ea9794"/><rect x="480.89" y="522.0" width="2.42" height="16.0" fill="#e0625f"/><rect x="480.89" y="537.0" width="2.42" height="1" fill="#c9504d"/><rect x="483.76" y="516" width="3.32" height="6.0" fill="#89aee6"/><rect x="484.21" y="516" width="2.42" height="6.0" fill="#6898de"/><rect x="483.76" y="522.0" width="3.32" height="16.0" fill="#ea9794"/><rect x="484.21" y="522.0" width="2.42" height="16.0" fill="#e0625f"/><rect x="484.21" y="537.0" width="2.42" height="1" fill="#c9504d"/><rect x="487.08" y="516" width="3.32" height="6.0" fill="#89aee6"/><rect x="487.53" y="516" width="2.42" height="6.0" fill="#6898de"/><rect x="487.08" y="522.0" width="3.32" height="16.0" fill="#ea9794"/><rect x="487.53" y="522.0" width="2.42" height="16.0" fill="#e0625f"/><rect x="487.53" y="537.0" width="2.42" height="1" fill="#c9504d"/><rect x="490.41" y="516" width="3.32" height="6.0" fill="#89aee6"/><rect x="490.86" y="516" width="2.42" height="6.0" fill="#6898de"/><rect x="490.41" y="522.0" width="3.32" height="16.0" fill="#ea9794"/><rect x="490.86" y="522.0" width="2.42" height="16.0" fill="#e0625f"/><rect x="490.86" y="537.0" width="2.42" height="1" fill="#c9504d"/><rect x="493.73" y="516" width="3.32" height="6.0" fill="#89aee6"/><rect x="494.18" y="516" width="2.42" height="6.0" fill="#6898de"/><rect x="493.73" y="522.0" width="3.32" height="16.0" fill="#ea9794"/><rect x="494.18" y="522.0" width="2.42" height="16.0" fill="#e0625f"/><rect x="494.18" y="537.0" width="2.42" height="1" fill="#c9504d"/><rect x="497.05" y="516" width="3.32" height="4.0" fill="#89aee6"/><rect x="497.50" y="516" width="2.42" height="4.0" fill="#6898de"/><rect x="497.05" y="520.0" width="3.32" height="21.5" fill="#ea9794"/><rect x="497.50" y="520.0" width="2.42" height="21.5" fill="#e0625f"/><rect x="497.50" y="540.5" width="2.42" height="1" fill="#c9504d"/><rect x="500.37" y="516" width="3.32" height="4.0" fill="#89aee6"/><rect x="500.82" y="516" width="2.42" height="4.0" fill="#6898de"/><rect x="500.37" y="520.0" width="3.32" height="20.0" fill="#ea9794"/><rect x="500.82" y="520.0" width="2.42" height="20.0" fill="#e0625f"/><rect x="500.82" y="539.0" width="2.42" height="1" fill="#c9504d"/><rect x="503.70" y="516" width="3.32" height="6.0" fill="#89aee6"/><rect x="504.15" y="516" width="2.42" height="6.0" fill="#6898de"/><rect x="503.70" y="522.0" width="3.32" height="21.2" fill="#ea9794"/><rect x="504.15" y="522.0" width="2.42" height="21.2" fill="#e0625f"/><rect x="504.15" y="542.2" width="2.42" height="1" fill="#c9504d"/><rect x="507.02" y="516" width="3.32" height="6.0" fill="#89aee6"/><rect x="507.47" y="516" width="2.42" height="6.0" fill="#6898de"/><rect x="507.02" y="522.0" width="3.32" height="12.0" fill="#ea9794"/><rect x="507.47" y="522.0" width="2.42" height="12.0" fill="#e0625f"/><rect x="507.47" y="533.0" width="2.42" height="1" fill="#c9504d"/><rect x="510.34" y="516" width="3.32" height="6.0" fill="#89aee6"/><rect x="510.79" y="516" width="2.42" height="6.0" fill="#6898de"/><rect x="510.34" y="522.0" width="3.32" height="12.0" fill="#ea9794"/><rect x="510.79" y="522.0" width="2.42" height="12.0" fill="#e0625f"/><rect x="510.79" y="533.0" width="2.42" height="1" fill="#c9504d"/><rect x="513.66" y="516" width="3.32" height="6.0" fill="#89aee6"/><rect x="514.11" y="516" width="2.42" height="6.0" fill="#6898de"/><rect x="513.66" y="522.0" width="3.32" height="12.0" fill="#ea9794"/><rect x="514.11" y="522.0" width="2.42" height="12.0" fill="#e0625f"/><rect x="514.11" y="533.0" width="2.42" height="1" fill="#c9504d"/><rect x="516.99" y="516" width="3.32" height="8.0" fill="#89aee6"/><rect x="517.44" y="516" width="2.42" height="8.0" fill="#6898de"/><rect x="516.99" y="524.0" width="3.32" height="12.4" fill="#ea9794"/><rect x="517.44" y="524.0" width="2.42" height="12.4" fill="#e0625f"/><rect x="517.44" y="535.4" width="2.42" height="1" fill="#c9504d"/><rect x="520.31" y="516" width="3.32" height="8.0" fill="#89aee6"/><rect x="520.76" y="516" width="2.42" height="8.0" fill="#6898de"/><rect x="520.31" y="524.0" width="3.32" height="10.0" fill="#ea9794"/><rect x="520.76" y="524.0" width="2.42" height="10.0" fill="#e0625f"/><rect x="520.76" y="533.0" width="2.42" height="1" fill="#c9504d"/><rect x="523.63" y="516" width="3.32" height="8.0" fill="#89aee6"/><rect x="524.08" y="516" width="2.42" height="8.0" fill="#6898de"/><rect x="523.63" y="524.0" width="3.32" height="10.0" fill="#ea9794"/><rect x="524.08" y="524.0" width="2.42" height="10.0" fill="#e0625f"/><rect x="524.08" y="533.0" width="2.42" height="1" fill="#c9504d"/><rect x="526.95" y="516" width="3.32" height="8.0" fill="#89aee6"/><rect x="527.40" y="516" width="2.42" height="8.0" fill="#6898de"/><rect x="526.95" y="524.0" width="3.32" height="10.0" fill="#ea9794"/><rect x="527.40" y="524.0" width="2.42" height="10.0" fill="#e0625f"/><rect x="527.40" y="533.0" width="2.42" height="1" fill="#c9504d"/><rect x="530.28" y="516" width="3.32" height="8.0" fill="#89aee6"/><rect x="530.73" y="516" width="2.42" height="8.0" fill="#6898de"/><rect x="530.28" y="524.0" width="3.32" height="10.0" fill="#ea9794"/><rect x="530.73" y="524.0" width="2.42" height="10.0" fill="#e0625f"/><rect x="530.73" y="533.0" width="2.42" height="1" fill="#c9504d"/><rect x="533.60" y="516" width="3.32" height="8.0" fill="#89aee6"/><rect x="534.05" y="516" width="2.42" height="8.0" fill="#6898de"/><rect x="533.60" y="524.0" width="3.32" height="10.0" fill="#ea9794"/><rect x="534.05" y="524.0" width="2.42" height="10.0" fill="#e0625f"/><rect x="534.05" y="533.0" width="2.42" height="1" fill="#c9504d"/><rect x="536.92" y="516" width="3.32" height="8.0" fill="#89aee6"/><rect x="537.37" y="516" width="2.42" height="8.0" fill="#6898de"/><rect x="536.92" y="524.0" width="3.32" height="10.0" fill="#ea9794"/><rect x="537.37" y="524.0" width="2.42" height="10.0" fill="#e0625f"/><rect x="537.37" y="533.0" width="2.42" height="1" fill="#c9504d"/><rect x="540.24" y="516" width="3.32" height="8.0" fill="#89aee6"/><rect x="540.69" y="516" width="2.42" height="8.0" fill="#6898de"/><rect x="540.24" y="524.0" width="3.32" height="10.0" fill="#ea9794"/><rect x="540.69" y="524.0" width="2.42" height="10.0" fill="#e0625f"/><rect x="540.69" y="533.0" width="2.42" height="1" fill="#c9504d"/><rect x="543.57" y="516" width="3.32" height="8.0" fill="#89aee6"/><rect x="544.02" y="516" width="2.42" height="8.0" fill="#6898de"/><rect x="543.57" y="524.0" width="3.32" height="10.0" fill="#ea9794"/><rect x="544.02" y="524.0" width="2.42" height="10.0" fill="#e0625f"/><rect x="544.02" y="533.0" width="2.42" height="1" fill="#c9504d"/><rect x="546.89" y="516" width="3.32" height="8.0" fill="#89aee6"/><rect x="547.34" y="516" width="2.42" height="8.0" fill="#6898de"/><rect x="546.89" y="524.0" width="3.32" height="12.4" fill="#ea9794"/><rect x="547.34" y="524.0" width="2.42" height="12.4" fill="#e0625f"/><rect x="547.34" y="535.4" width="2.42" height="1" fill="#c9504d"/><rect x="550.21" y="516" width="3.32" height="8.0" fill="#89aee6"/><rect x="550.66" y="516" width="2.42" height="8.0" fill="#6898de"/><rect x="550.21" y="524.0" width="3.32" height="12.4" fill="#ea9794"/><rect x="550.66" y="524.0" width="2.42" height="12.4" fill="#e0625f"/><rect x="550.66" y="535.4" width="2.42" height="1" fill="#c9504d"/><rect x="553.53" y="516" width="3.32" height="8.0" fill="#89aee6"/><rect x="553.98" y="516" width="2.42" height="8.0" fill="#6898de"/><rect x="553.53" y="524.0" width="3.32" height="8.5" fill="#ea9794"/><rect x="553.98" y="524.0" width="2.42" height="8.5" fill="#e0625f"/><rect x="553.98" y="531.5" width="2.42" height="1" fill="#c9504d"/><rect x="556.86" y="516" width="3.32" height="8.0" fill="#89aee6"/><rect x="557.31" y="516" width="2.42" height="8.0" fill="#6898de"/><rect x="556.86" y="524.0" width="3.32" height="12.4" fill="#ea9794"/><rect x="557.31" y="524.0" width="2.42" height="12.4" fill="#e0625f"/><rect x="557.31" y="535.4" width="2.42" height="1" fill="#c9504d"/><rect x="560.18" y="516" width="3.32" height="8.0" fill="#89aee6"/><rect x="560.63" y="516" width="2.42" height="8.0" fill="#6898de"/><rect x="560.18" y="524.0" width="3.32" height="8.5" fill="#ea9794"/><rect x="560.63" y="524.0" width="2.42" height="8.5" fill="#e0625f"/><rect x="560.63" y="531.5" width="2.42" height="1" fill="#c9504d"/><rect x="563.50" y="516" width="3.32" height="8.0" fill="#89aee6"/><rect x="563.95" y="516" width="2.42" height="8.0" fill="#6898de"/><rect x="563.50" y="524.0" width="3.32" height="14.0" fill="#ea9794"/><rect x="563.95" y="524.0" width="2.42" height="14.0" fill="#e0625f"/><rect x="563.95" y="537.0" width="2.42" height="1" fill="#c9504d"/><rect x="566.82" y="516" width="3.32" height="8.0" fill="#89aee6"/><rect x="567.27" y="516" width="2.42" height="8.0" fill="#6898de"/><rect x="566.82" y="524.0" width="3.32" height="12.4" fill="#ea9794"/><rect x="567.27" y="524.0" width="2.42" height="12.4" fill="#e0625f"/><rect x="567.27" y="535.4" width="2.42" height="1" fill="#c9504d"/><rect x="570.15" y="516" width="3.32" height="8.0" fill="#89aee6"/><rect x="570.60" y="516" width="2.42" height="8.0" fill="#6898de"/><rect x="570.15" y="524.0" width="3.32" height="16.8" fill="#ea9794"/><rect x="570.60" y="524.0" width="2.42" height="16.8" fill="#e0625f"/><rect x="570.60" y="539.8" width="2.42" height="1" fill="#c9504d"/><rect x="573.47" y="516" width="3.32" height="8.0" fill="#89aee6"/><rect x="573.92" y="516" width="2.42" height="8.0" fill="#6898de"/><rect x="573.47" y="524.0" width="3.32" height="14.0" fill="#ea9794"/><rect x="573.92" y="524.0" width="2.42" height="14.0" fill="#e0625f"/><rect x="573.92" y="537.0" width="2.42" height="1" fill="#c9504d"/><rect x="576.79" y="516" width="3.32" height="8.0" fill="#89aee6"/><rect x="577.24" y="516" width="2.42" height="8.0" fill="#6898de"/><rect x="576.79" y="524.0" width="3.32" height="16.8" fill="#ea9794"/><rect x="577.24" y="524.0" width="2.42" height="16.8" fill="#e0625f"/><rect x="577.24" y="539.8" width="2.42" height="1" fill="#c9504d"/><rect x="580.11" y="516" width="3.32" height="8.0" fill="#89aee6"/><rect x="580.56" y="516" width="2.42" height="8.0" fill="#6898de"/><rect x="580.11" y="524.0" width="3.32" height="17.9" fill="#ea9794"/><rect x="580.56" y="524.0" width="2.42" height="17.9" fill="#e0625f"/><rect x="580.56" y="540.9" width="2.42" height="1" fill="#c9504d"/><rect x="583.44" y="516" width="3.32" height="8.0" fill="#89aee6"/><rect x="583.89" y="516" width="2.42" height="8.0" fill="#6898de"/><rect x="583.44" y="524.0" width="3.32" height="17.9" fill="#ea9794"/><rect x="583.89" y="524.0" width="2.42" height="17.9" fill="#e0625f"/><rect x="583.89" y="540.9" width="2.42" height="1" fill="#c9504d"/><rect x="586.76" y="516" width="3.32" height="8.0" fill="#89aee6"/><rect x="587.21" y="516" width="2.42" height="8.0" fill="#6898de"/><rect x="586.76" y="524.0" width="3.32" height="17.9" fill="#ea9794"/><rect x="587.21" y="524.0" width="2.42" height="17.9" fill="#e0625f"/><rect x="587.21" y="540.9" width="2.42" height="1" fill="#c9504d"/><rect x="590.08" y="516" width="3.32" height="8.0" fill="#89aee6"/><rect x="590.53" y="516" width="2.42" height="8.0" fill="#6898de"/><rect x="590.08" y="524.0" width="3.32" height="17.9" fill="#ea9794"/><rect x="590.53" y="524.0" width="2.42" height="17.9" fill="#e0625f"/><rect x="590.53" y="540.9" width="2.42" height="1" fill="#c9504d"/><rect x="593.40" y="516" width="3.32" height="8.0" fill="#89aee6"/><rect x="593.85" y="516" width="2.42" height="8.0" fill="#6898de"/><rect x="593.40" y="524.0" width="3.32" height="17.9" fill="#ea9794"/><rect x="593.85" y="524.0" width="2.42" height="17.9" fill="#e0625f"/><rect x="593.85" y="540.9" width="2.42" height="1" fill="#c9504d"/><rect x="596.73" y="516" width="3.32" height="8.0" fill="#89aee6"/><rect x="597.18" y="516" width="2.42" height="8.0" fill="#6898de"/><rect x="596.73" y="524.0" width="3.32" height="17.9" fill="#ea9794"/><rect x="597.18" y="524.0" width="2.42" height="17.9" fill="#e0625f"/><rect x="597.18" y="540.9" width="2.42" height="1" fill="#c9504d"/><rect x="600.05" y="516" width="3.32" height="8.0" fill="#89aee6"/><rect x="600.50" y="516" width="2.42" height="8.0" fill="#6898de"/><rect x="600.05" y="524.0" width="3.32" height="23.1" fill="#ea9794"/><rect x="600.50" y="524.0" width="2.42" height="23.1" fill="#e0625f"/><rect x="600.50" y="546.1" width="2.42" height="1" fill="#c9504d"/><rect x="603.37" y="516" width="3.32" height="6.0" fill="#89aee6"/><rect x="603.82" y="516" width="2.42" height="6.0" fill="#6898de"/><rect x="603.37" y="522.0" width="3.32" height="18.8" fill="#ea9794"/><rect x="603.82" y="522.0" width="2.42" height="18.8" fill="#e0625f"/><rect x="603.82" y="539.8" width="2.42" height="1" fill="#c9504d"/><rect x="606.69" y="516" width="3.32" height="6.0" fill="#89aee6"/><rect x="607.14" y="516" width="2.42" height="6.0" fill="#6898de"/><rect x="606.69" y="522.0" width="3.32" height="21.3" fill="#ea9794"/><rect x="607.14" y="522.0" width="2.42" height="21.3" fill="#e0625f"/><rect x="607.14" y="542.3" width="2.42" height="1" fill="#c9504d"/><rect x="610.01" y="516" width="3.32" height="6.0" fill="#89aee6"/><rect x="610.46" y="516" width="2.42" height="6.0" fill="#6898de"/><rect x="610.01" y="522.0" width="3.32" height="21.3" fill="#ea9794"/><rect x="610.46" y="522.0" width="2.42" height="21.3" fill="#e0625f"/><rect x="610.46" y="542.3" width="2.42" height="1" fill="#c9504d"/><rect x="613.34" y="516" width="3.32" height="6.0" fill="#89aee6"/><rect x="613.79" y="516" width="2.42" height="6.0" fill="#6898de"/><rect x="613.34" y="522.0" width="3.32" height="17.7" fill="#ea9794"/><rect x="613.79" y="522.0" width="2.42" height="17.7" fill="#e0625f"/><rect x="613.79" y="538.7" width="2.42" height="1" fill="#c9504d"/><rect x="616.66" y="516" width="3.32" height="6.0" fill="#89aee6"/><rect x="617.11" y="516" width="2.42" height="6.0" fill="#6898de"/><rect x="616.66" y="522.0" width="3.32" height="17.7" fill="#ea9794"/><rect x="617.11" y="522.0" width="2.42" height="17.7" fill="#e0625f"/><rect x="617.11" y="538.7" width="2.42" height="1" fill="#c9504d"/><rect x="619.98" y="516" width="3.32" height="6.0" fill="#89aee6"/><rect x="620.43" y="516" width="2.42" height="6.0" fill="#6898de"/><rect x="619.98" y="522.0" width="3.32" height="21.3" fill="#ea9794"/><rect x="620.43" y="522.0" width="2.42" height="21.3" fill="#e0625f"/><rect x="620.43" y="542.3" width="2.42" height="1" fill="#c9504d"/><rect x="623.30" y="516" width="3.32" height="6.0" fill="#89aee6"/><rect x="623.75" y="516" width="2.42" height="6.0" fill="#6898de"/><rect x="623.30" y="522.0" width="3.32" height="16.5" fill="#ea9794"/><rect x="623.75" y="522.0" width="2.42" height="16.5" fill="#e0625f"/><rect x="623.75" y="537.5" width="2.42" height="1" fill="#c9504d"/><rect x="626.63" y="516" width="3.32" height="6.0" fill="#89aee6"/><rect x="627.08" y="516" width="2.42" height="6.0" fill="#6898de"/><rect x="626.63" y="522.0" width="3.32" height="21.3" fill="#ea9794"/><rect x="627.08" y="522.0" width="2.42" height="21.3" fill="#e0625f"/><rect x="627.08" y="542.3" width="2.42" height="1" fill="#c9504d"/><rect x="629.95" y="516" width="3.32" height="4.0" fill="#89aee6"/><rect x="630.40" y="516" width="2.42" height="4.0" fill="#6898de"/><rect x="629.95" y="520.0" width="3.32" height="19.3" fill="#ea9794"/><rect x="630.40" y="520.0" width="2.42" height="19.3" fill="#e0625f"/><rect x="630.40" y="538.3" width="2.42" height="1" fill="#c9504d"/><rect x="633.27" y="516" width="3.32" height="4.0" fill="#89aee6"/><rect x="633.72" y="516" width="2.42" height="4.0" fill="#6898de"/><rect x="633.27" y="520.0" width="3.32" height="14.1" fill="#ea9794"/><rect x="633.72" y="520.0" width="2.42" height="14.1" fill="#e0625f"/><rect x="633.72" y="533.1" width="2.42" height="1" fill="#c9504d"/><rect x="636.59" y="516" width="3.32" height="4.0" fill="#89aee6"/><rect x="637.04" y="516" width="2.42" height="4.0" fill="#6898de"/><rect x="636.59" y="520.0" width="3.32" height="14.1" fill="#ea9794"/><rect x="637.04" y="520.0" width="2.42" height="14.1" fill="#e0625f"/><rect x="637.04" y="533.1" width="2.42" height="1" fill="#c9504d"/><rect x="639.92" y="516" width="3.32" height="4.0" fill="#89aee6"/><rect x="640.37" y="516" width="2.42" height="4.0" fill="#6898de"/><rect x="639.92" y="520.0" width="3.32" height="14.1" fill="#ea9794"/><rect x="640.37" y="520.0" width="2.42" height="14.1" fill="#e0625f"/><rect x="640.37" y="533.1" width="2.42" height="1" fill="#c9504d"/><rect x="643.24" y="516" width="3.32" height="4.0" fill="#89aee6"/><rect x="643.69" y="516" width="2.42" height="4.0" fill="#6898de"/><rect x="643.24" y="520.0" width="3.32" height="14.1" fill="#ea9794"/><rect x="643.69" y="520.0" width="2.42" height="14.1" fill="#e0625f"/><rect x="643.69" y="533.1" width="2.42" height="1" fill="#c9504d"/><rect x="646.56" y="516" width="3.32" height="4.0" fill="#89aee6"/><rect x="647.01" y="516" width="2.42" height="4.0" fill="#6898de"/><rect x="646.56" y="520.0" width="3.32" height="14.1" fill="#ea9794"/><rect x="647.01" y="520.0" width="2.42" height="14.1" fill="#e0625f"/><rect x="647.01" y="533.1" width="2.42" height="1" fill="#c9504d"/><rect x="649.88" y="516" width="3.32" height="4.0" fill="#89aee6"/><rect x="650.33" y="516" width="2.42" height="4.0" fill="#6898de"/><rect x="649.88" y="520.0" width="3.32" height="14.1" fill="#ea9794"/><rect x="650.33" y="520.0" width="2.42" height="14.1" fill="#e0625f"/><rect x="650.33" y="533.1" width="2.42" height="1" fill="#c9504d"/><rect x="653.21" y="516" width="3.32" height="4.0" fill="#89aee6"/><rect x="653.66" y="516" width="2.42" height="4.0" fill="#6898de"/><rect x="653.21" y="520.0" width="3.32" height="14.1" fill="#ea9794"/><rect x="653.66" y="520.0" width="2.42" height="14.1" fill="#e0625f"/><rect x="653.66" y="533.1" width="2.42" height="1" fill="#c9504d"/><rect x="656.53" y="516" width="3.32" height="4.0" fill="#89aee6"/><rect x="656.98" y="516" width="2.42" height="4.0" fill="#6898de"/><rect x="656.53" y="520.0" width="3.32" height="25.2" fill="#ea9794"/><rect x="656.98" y="520.0" width="2.42" height="25.2" fill="#e0625f"/><rect x="656.98" y="544.2" width="2.42" height="1" fill="#c9504d"/><rect x="659.85" y="516" width="3.32" height="4.0" fill="#89aee6"/><rect x="660.30" y="516" width="2.42" height="4.0" fill="#6898de"/><rect x="659.85" y="520.0" width="3.32" height="18.5" fill="#ea9794"/><rect x="660.30" y="520.0" width="2.42" height="18.5" fill="#e0625f"/><rect x="660.30" y="537.5" width="2.42" height="1" fill="#c9504d"/><rect x="663.17" y="516" width="3.32" height="2.0" fill="#89aee6"/><rect x="663.62" y="516" width="2.42" height="2.0" fill="#6898de"/><rect x="663.17" y="518.0" width="3.32" height="20.3" fill="#ea9794"/><rect x="663.62" y="518.0" width="2.42" height="20.3" fill="#e0625f"/><rect x="663.62" y="537.3" width="2.42" height="1" fill="#c9504d"/><rect x="666.50" y="516" width="3.32" height="4.0" fill="#89aee6"/><rect x="666.95" y="516" width="2.42" height="4.0" fill="#6898de"/><rect x="666.50" y="520.0" width="3.32" height="15.6" fill="#ea9794"/><rect x="666.95" y="520.0" width="2.42" height="15.6" fill="#e0625f"/><rect x="666.95" y="534.6" width="2.42" height="1" fill="#c9504d"/><rect x="669.82" y="516" width="3.32" height="2.0" fill="#89aee6"/><rect x="670.27" y="516" width="2.42" height="2.0" fill="#6898de"/><rect x="669.82" y="518.0" width="3.32" height="22.0" fill="#ea9794"/><rect x="670.27" y="518.0" width="2.42" height="22.0" fill="#e0625f"/><rect x="670.27" y="539.0" width="2.42" height="1" fill="#c9504d"/><rect x="673.14" y="516" width="3.32" height="2.0" fill="#89aee6"/><rect x="673.59" y="516" width="2.42" height="2.0" fill="#6898de"/><rect x="673.14" y="518.0" width="3.32" height="25.0" fill="#ea9794"/><rect x="673.59" y="518.0" width="2.42" height="25.0" fill="#e0625f"/><rect x="673.59" y="542.0" width="2.42" height="1" fill="#c9504d"/><rect x="676.46" y="516" width="3.32" height="4.0" fill="#89aee6"/><rect x="676.91" y="516" width="2.42" height="4.0" fill="#6898de"/><rect x="676.46" y="520.0" width="3.32" height="16.3" fill="#ea9794"/><rect x="676.91" y="520.0" width="2.42" height="16.3" fill="#e0625f"/><rect x="676.91" y="535.3" width="2.42" height="1" fill="#c9504d"/><rect x="679.79" y="516" width="3.32" height="4.0" fill="#89aee6"/><rect x="680.24" y="516" width="2.42" height="4.0" fill="#6898de"/><rect x="679.79" y="520.0" width="3.32" height="17.4" fill="#ea9794"/><rect x="680.24" y="520.0" width="2.42" height="17.4" fill="#e0625f"/><rect x="680.24" y="536.4" width="2.42" height="1" fill="#c9504d"/><rect x="683.11" y="516" width="3.32" height="4.0" fill="#89aee6"/><rect x="683.56" y="516" width="2.42" height="4.0" fill="#6898de"/><rect x="683.11" y="520.0" width="3.32" height="14.1" fill="#ea9794"/><rect x="683.56" y="520.0" width="2.42" height="14.1" fill="#e0625f"/><rect x="683.56" y="533.1" width="2.42" height="1" fill="#c9504d"/><rect x="686.43" y="516" width="3.32" height="4.0" fill="#89aee6"/><rect x="686.88" y="516" width="2.42" height="4.0" fill="#6898de"/><rect x="686.43" y="520.0" width="3.32" height="17.4" fill="#ea9794"/><rect x="686.88" y="520.0" width="2.42" height="17.4" fill="#e0625f"/><rect x="686.88" y="536.4" width="2.42" height="1" fill="#c9504d"/><rect x="689.75" y="516" width="3.32" height="4.0" fill="#89aee6"/><rect x="690.20" y="516" width="2.42" height="4.0" fill="#6898de"/><rect x="689.75" y="520.0" width="3.32" height="15.6" fill="#ea9794"/><rect x="690.20" y="520.0" width="2.42" height="15.6" fill="#e0625f"/><rect x="690.20" y="534.6" width="2.42" height="1" fill="#c9504d"/><rect x="693.08" y="516" width="3.32" height="4.0" fill="#89aee6"/><rect x="693.53" y="516" width="2.42" height="4.0" fill="#6898de"/><rect x="693.08" y="520.0" width="3.32" height="15.6" fill="#ea9794"/><rect x="693.53" y="520.0" width="2.42" height="15.6" fill="#e0625f"/><rect x="693.53" y="534.6" width="2.42" height="1" fill="#c9504d"/><rect x="696.40" y="516" width="3.32" height="4.0" fill="#89aee6"/><rect x="696.85" y="516" width="2.42" height="4.0" fill="#6898de"/><rect x="696.40" y="520.0" width="3.32" height="15.6" fill="#ea9794"/><rect x="696.85" y="520.0" width="2.42" height="15.6" fill="#e0625f"/><rect x="696.85" y="534.6" width="2.42" height="1" fill="#c9504d"/><rect x="699.72" y="516" width="3.32" height="4.0" fill="#89aee6"/><rect x="700.17" y="516" width="2.42" height="4.0" fill="#6898de"/><rect x="699.72" y="520.0" width="3.32" height="15.6" fill="#ea9794"/><rect x="700.17" y="520.0" width="2.42" height="15.6" fill="#e0625f"/><rect x="700.17" y="534.6" width="2.42" height="1" fill="#c9504d"/><rect x="703.04" y="516" width="3.32" height="4.0" fill="#89aee6"/><rect x="703.49" y="516" width="2.42" height="4.0" fill="#6898de"/><rect x="703.04" y="520.0" width="3.32" height="15.6" fill="#ea9794"/><rect x="703.49" y="520.0" width="2.42" height="15.6" fill="#e0625f"/><rect x="703.49" y="534.6" width="2.42" height="1" fill="#c9504d"/><rect x="706.37" y="516" width="3.32" height="4.0" fill="#89aee6"/><rect x="706.82" y="516" width="2.42" height="4.0" fill="#6898de"/><rect x="706.37" y="520.0" width="3.32" height="17.4" fill="#ea9794"/><rect x="706.82" y="520.0" width="2.42" height="17.4" fill="#e0625f"/><rect x="706.82" y="536.4" width="2.42" height="1" fill="#c9504d"/><rect x="709.69" y="516" width="3.32" height="4.0" fill="#89aee6"/><rect x="710.14" y="516" width="2.42" height="4.0" fill="#6898de"/><rect x="709.69" y="520.0" width="3.32" height="15.6" fill="#ea9794"/><rect x="710.14" y="520.0" width="2.42" height="15.6" fill="#e0625f"/><rect x="710.14" y="534.6" width="2.42" height="1" fill="#c9504d"/><rect x="713.01" y="516" width="3.32" height="4.0" fill="#89aee6"/><rect x="713.46" y="516" width="2.42" height="4.0" fill="#6898de"/><rect x="713.01" y="520.0" width="3.32" height="15.6" fill="#ea9794"/><rect x="713.46" y="520.0" width="2.42" height="15.6" fill="#e0625f"/><rect x="713.46" y="534.6" width="2.42" height="1" fill="#c9504d"/><rect x="716.33" y="516" width="3.32" height="4.0" fill="#89aee6"/><rect x="716.78" y="516" width="2.42" height="4.0" fill="#6898de"/><rect x="716.33" y="520.0" width="3.32" height="21.5" fill="#ea9794"/><rect x="716.78" y="520.0" width="2.42" height="21.5" fill="#e0625f"/><rect x="716.78" y="540.5" width="2.42" height="1" fill="#c9504d"/><rect x="719.66" y="516" width="3.32" height="4.0" fill="#89aee6"/><rect x="720.11" y="516" width="2.42" height="4.0" fill="#6898de"/><rect x="719.66" y="520.0" width="3.32" height="21.5" fill="#ea9794"/><rect x="720.11" y="520.0" width="2.42" height="21.5" fill="#e0625f"/><rect x="720.11" y="540.5" width="2.42" height="1" fill="#c9504d"/><rect x="722.98" y="516" width="3.32" height="4.0" fill="#89aee6"/><rect x="723.43" y="516" width="2.42" height="4.0" fill="#6898de"/><rect x="722.98" y="520.0" width="3.32" height="23.0" fill="#ea9794"/><rect x="723.43" y="520.0" width="2.42" height="23.0" fill="#b8643f"/><rect x="723.43" y="542.0" width="2.42" height="1" fill="#c9504d"/></svg>
<div class="a" style="left:944px;top:37px;width:1px;height:517px;background:#c6cad0"></div>
<div class="a btn" style="left:925px;top:536px;width:16px;height:16px;border-radius:3px"></div>
<svg class="a" style="left:928px;top:539px" width="10" height="10" viewBox="0 0 10 10"><path d="M8 3.2 A3.6 3.6 0 1 0 8.6 6" fill="none" stroke="#666b73" stroke-width="1.1"/><path d="M6.2 1.2 L9.2 1.2 L9.2 4.2Z" fill="#666b73"/></svg></body></html>
